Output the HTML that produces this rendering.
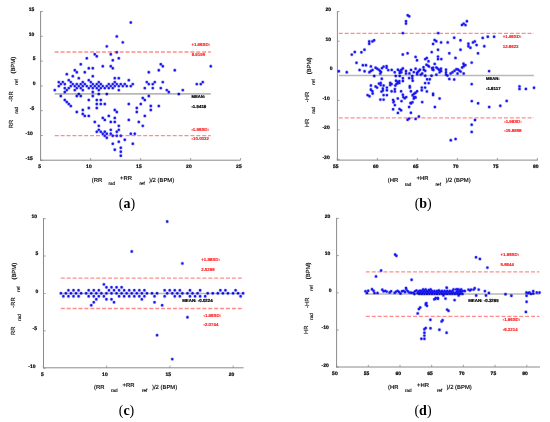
<!DOCTYPE html>
<html><head><meta charset="utf-8"><title>Bland-Altman plots</title>
<style>html,body{margin:0;padding:0;background:#fff;width:550px;height:422px;overflow:hidden;position:relative}</style>
</head><body>
<svg width="550" height="422" viewBox="0 0 550 422" style="position:absolute;left:0;top:0">
<g>
<g font-family="'Liberation Sans', Arial, sans-serif" text-rendering="geometricPrecision">
<line x1="40.60" y1="11.00" x2="40.60" y2="160.70" stroke="#8a8a8a" stroke-width="1.0"/>
<line x1="40.10" y1="160.20" x2="240.50" y2="160.20" stroke="#8a8a8a" stroke-width="1.0"/>
<line x1="40.60" y1="11.50" x2="42.80" y2="11.50" stroke="#8a8a8a" stroke-width="0.8"/>
<text x="34.20" y="10.89" font-size="5.0" text-anchor="end" fill="#000" stroke="#000" stroke-width="0.2" font-weight="bold">15</text>
<line x1="40.60" y1="36.30" x2="42.80" y2="36.30" stroke="#8a8a8a" stroke-width="0.8"/>
<text x="34.20" y="35.69" font-size="5.0" text-anchor="end" fill="#000" stroke="#000" stroke-width="0.2" font-weight="bold">10</text>
<line x1="40.60" y1="61.10" x2="42.80" y2="61.10" stroke="#8a8a8a" stroke-width="0.8"/>
<text x="35.60" y="60.49" font-size="5.0" text-anchor="end" fill="#000" stroke="#000" stroke-width="0.2" font-weight="bold">5</text>
<line x1="40.60" y1="85.90" x2="42.80" y2="85.90" stroke="#8a8a8a" stroke-width="0.8"/>
<text x="35.60" y="85.29" font-size="5.0" text-anchor="end" fill="#000" stroke="#000" stroke-width="0.2" font-weight="bold">0</text>
<line x1="40.60" y1="110.70" x2="42.80" y2="110.70" stroke="#8a8a8a" stroke-width="0.8"/>
<text x="34.20" y="110.09" font-size="5.0" text-anchor="end" fill="#000" stroke="#000" stroke-width="0.2" font-weight="bold">-5</text>
<line x1="40.60" y1="135.50" x2="42.80" y2="135.50" stroke="#8a8a8a" stroke-width="0.8"/>
<text x="32.80" y="134.89" font-size="5.0" text-anchor="end" fill="#000" stroke="#000" stroke-width="0.2" font-weight="bold">-10</text>
<line x1="40.60" y1="160.30" x2="42.80" y2="160.30" stroke="#8a8a8a" stroke-width="0.8"/>
<text x="32.80" y="159.69" font-size="5.0" text-anchor="end" fill="#000" stroke="#000" stroke-width="0.2" font-weight="bold">-15</text>
<line x1="40.60" y1="160.20" x2="40.60" y2="158.00" stroke="#8a8a8a" stroke-width="0.8"/>
<text x="39.70" y="168.29" font-size="5.0" text-anchor="middle" fill="#000" stroke="#000" stroke-width="0.2" font-weight="bold">5</text>
<line x1="90.60" y1="160.20" x2="90.60" y2="158.00" stroke="#8a8a8a" stroke-width="0.8"/>
<text x="88.90" y="168.29" font-size="5.0" text-anchor="middle" fill="#000" stroke="#000" stroke-width="0.2" font-weight="bold">10</text>
<line x1="140.60" y1="160.20" x2="140.60" y2="158.00" stroke="#8a8a8a" stroke-width="0.8"/>
<text x="138.90" y="168.29" font-size="5.0" text-anchor="middle" fill="#000" stroke="#000" stroke-width="0.2" font-weight="bold">15</text>
<line x1="190.60" y1="160.20" x2="190.60" y2="158.00" stroke="#8a8a8a" stroke-width="0.8"/>
<text x="188.90" y="168.29" font-size="5.0" text-anchor="middle" fill="#000" stroke="#000" stroke-width="0.2" font-weight="bold">20</text>
<line x1="240.60" y1="160.20" x2="240.60" y2="158.00" stroke="#8a8a8a" stroke-width="0.8"/>
<text x="238.90" y="168.29" font-size="5.0" text-anchor="middle" fill="#000" stroke="#000" stroke-width="0.2" font-weight="bold">25</text>
<path d="M52.95 90.08a1.85 1.85 0 1 0 3.70 0a1.85 1.85 0 1 0 -3.70 0zM56.95 82.12a1.85 1.85 0 1 0 3.70 0a1.85 1.85 0 1 0 -3.70 0zM56.95 86.10a1.85 1.85 0 1 0 3.70 0a1.85 1.85 0 1 0 -3.70 0zM58.95 84.11a1.85 1.85 0 1 0 3.70 0a1.85 1.85 0 1 0 -3.70 0zM58.95 96.04a1.85 1.85 0 1 0 3.70 0a1.85 1.85 0 1 0 -3.70 0zM60.95 82.12a1.85 1.85 0 1 0 3.70 0a1.85 1.85 0 1 0 -3.70 0zM62.95 84.11a1.85 1.85 0 1 0 3.70 0a1.85 1.85 0 1 0 -3.70 0zM62.95 88.09a1.85 1.85 0 1 0 3.70 0a1.85 1.85 0 1 0 -3.70 0zM62.95 92.06a1.85 1.85 0 1 0 3.70 0a1.85 1.85 0 1 0 -3.70 0zM62.95 100.02a1.85 1.85 0 1 0 3.70 0a1.85 1.85 0 1 0 -3.70 0zM64.95 74.17a1.85 1.85 0 1 0 3.70 0a1.85 1.85 0 1 0 -3.70 0zM64.95 90.08a1.85 1.85 0 1 0 3.70 0a1.85 1.85 0 1 0 -3.70 0zM64.95 102.00a1.85 1.85 0 1 0 3.70 0a1.85 1.85 0 1 0 -3.70 0zM66.95 80.14a1.85 1.85 0 1 0 3.70 0a1.85 1.85 0 1 0 -3.70 0zM66.95 88.09a1.85 1.85 0 1 0 3.70 0a1.85 1.85 0 1 0 -3.70 0zM66.95 103.99a1.85 1.85 0 1 0 3.70 0a1.85 1.85 0 1 0 -3.70 0zM68.95 82.12a1.85 1.85 0 1 0 3.70 0a1.85 1.85 0 1 0 -3.70 0zM68.95 86.10a1.85 1.85 0 1 0 3.70 0a1.85 1.85 0 1 0 -3.70 0zM68.95 105.98a1.85 1.85 0 1 0 3.70 0a1.85 1.85 0 1 0 -3.70 0zM70.95 76.16a1.85 1.85 0 1 0 3.70 0a1.85 1.85 0 1 0 -3.70 0zM70.95 84.11a1.85 1.85 0 1 0 3.70 0a1.85 1.85 0 1 0 -3.70 0zM72.95 70.20a1.85 1.85 0 1 0 3.70 0a1.85 1.85 0 1 0 -3.70 0zM72.95 86.10a1.85 1.85 0 1 0 3.70 0a1.85 1.85 0 1 0 -3.70 0zM72.95 90.08a1.85 1.85 0 1 0 3.70 0a1.85 1.85 0 1 0 -3.70 0zM74.95 72.18a1.85 1.85 0 1 0 3.70 0a1.85 1.85 0 1 0 -3.70 0zM74.95 84.11a1.85 1.85 0 1 0 3.70 0a1.85 1.85 0 1 0 -3.70 0zM74.95 88.09a1.85 1.85 0 1 0 3.70 0a1.85 1.85 0 1 0 -3.70 0zM74.95 96.04a1.85 1.85 0 1 0 3.70 0a1.85 1.85 0 1 0 -3.70 0zM74.95 111.94a1.85 1.85 0 1 0 3.70 0a1.85 1.85 0 1 0 -3.70 0zM76.95 78.15a1.85 1.85 0 1 0 3.70 0a1.85 1.85 0 1 0 -3.70 0zM76.95 86.10a1.85 1.85 0 1 0 3.70 0a1.85 1.85 0 1 0 -3.70 0zM76.95 94.05a1.85 1.85 0 1 0 3.70 0a1.85 1.85 0 1 0 -3.70 0zM78.95 64.23a1.85 1.85 0 1 0 3.70 0a1.85 1.85 0 1 0 -3.70 0zM78.95 84.11a1.85 1.85 0 1 0 3.70 0a1.85 1.85 0 1 0 -3.70 0zM78.95 88.09a1.85 1.85 0 1 0 3.70 0a1.85 1.85 0 1 0 -3.70 0zM78.95 96.04a1.85 1.85 0 1 0 3.70 0a1.85 1.85 0 1 0 -3.70 0zM80.95 82.12a1.85 1.85 0 1 0 3.70 0a1.85 1.85 0 1 0 -3.70 0zM80.95 86.10a1.85 1.85 0 1 0 3.70 0a1.85 1.85 0 1 0 -3.70 0zM80.95 90.08a1.85 1.85 0 1 0 3.70 0a1.85 1.85 0 1 0 -3.70 0zM80.95 109.96a1.85 1.85 0 1 0 3.70 0a1.85 1.85 0 1 0 -3.70 0zM80.95 113.93a1.85 1.85 0 1 0 3.70 0a1.85 1.85 0 1 0 -3.70 0zM82.95 72.18a1.85 1.85 0 1 0 3.70 0a1.85 1.85 0 1 0 -3.70 0zM82.95 84.11a1.85 1.85 0 1 0 3.70 0a1.85 1.85 0 1 0 -3.70 0zM82.95 115.92a1.85 1.85 0 1 0 3.70 0a1.85 1.85 0 1 0 -3.70 0zM84.95 58.27a1.85 1.85 0 1 0 3.70 0a1.85 1.85 0 1 0 -3.70 0zM84.95 86.10a1.85 1.85 0 1 0 3.70 0a1.85 1.85 0 1 0 -3.70 0zM86.95 68.21a1.85 1.85 0 1 0 3.70 0a1.85 1.85 0 1 0 -3.70 0zM86.95 80.14a1.85 1.85 0 1 0 3.70 0a1.85 1.85 0 1 0 -3.70 0zM86.95 88.09a1.85 1.85 0 1 0 3.70 0a1.85 1.85 0 1 0 -3.70 0zM86.95 100.02a1.85 1.85 0 1 0 3.70 0a1.85 1.85 0 1 0 -3.70 0zM86.95 107.97a1.85 1.85 0 1 0 3.70 0a1.85 1.85 0 1 0 -3.70 0zM86.95 115.92a1.85 1.85 0 1 0 3.70 0a1.85 1.85 0 1 0 -3.70 0zM88.95 82.12a1.85 1.85 0 1 0 3.70 0a1.85 1.85 0 1 0 -3.70 0zM88.95 86.10a1.85 1.85 0 1 0 3.70 0a1.85 1.85 0 1 0 -3.70 0zM90.95 68.21a1.85 1.85 0 1 0 3.70 0a1.85 1.85 0 1 0 -3.70 0zM90.95 76.16a1.85 1.85 0 1 0 3.70 0a1.85 1.85 0 1 0 -3.70 0zM90.95 84.11a1.85 1.85 0 1 0 3.70 0a1.85 1.85 0 1 0 -3.70 0zM90.95 88.09a1.85 1.85 0 1 0 3.70 0a1.85 1.85 0 1 0 -3.70 0zM90.95 92.06a1.85 1.85 0 1 0 3.70 0a1.85 1.85 0 1 0 -3.70 0zM90.95 96.04a1.85 1.85 0 1 0 3.70 0a1.85 1.85 0 1 0 -3.70 0zM92.95 54.29a1.85 1.85 0 1 0 3.70 0a1.85 1.85 0 1 0 -3.70 0zM92.95 86.10a1.85 1.85 0 1 0 3.70 0a1.85 1.85 0 1 0 -3.70 0zM92.95 121.88a1.85 1.85 0 1 0 3.70 0a1.85 1.85 0 1 0 -3.70 0zM94.95 56.28a1.85 1.85 0 1 0 3.70 0a1.85 1.85 0 1 0 -3.70 0zM94.95 84.11a1.85 1.85 0 1 0 3.70 0a1.85 1.85 0 1 0 -3.70 0zM94.95 88.09a1.85 1.85 0 1 0 3.70 0a1.85 1.85 0 1 0 -3.70 0zM94.95 100.02a1.85 1.85 0 1 0 3.70 0a1.85 1.85 0 1 0 -3.70 0zM94.95 103.99a1.85 1.85 0 1 0 3.70 0a1.85 1.85 0 1 0 -3.70 0zM94.95 107.97a1.85 1.85 0 1 0 3.70 0a1.85 1.85 0 1 0 -3.70 0zM94.95 131.82a1.85 1.85 0 1 0 3.70 0a1.85 1.85 0 1 0 -3.70 0zM96.95 82.12a1.85 1.85 0 1 0 3.70 0a1.85 1.85 0 1 0 -3.70 0zM96.95 86.10a1.85 1.85 0 1 0 3.70 0a1.85 1.85 0 1 0 -3.70 0zM96.95 90.08a1.85 1.85 0 1 0 3.70 0a1.85 1.85 0 1 0 -3.70 0zM96.95 94.05a1.85 1.85 0 1 0 3.70 0a1.85 1.85 0 1 0 -3.70 0zM96.95 125.86a1.85 1.85 0 1 0 3.70 0a1.85 1.85 0 1 0 -3.70 0zM96.95 129.84a1.85 1.85 0 1 0 3.70 0a1.85 1.85 0 1 0 -3.70 0zM98.95 84.11a1.85 1.85 0 1 0 3.70 0a1.85 1.85 0 1 0 -3.70 0zM98.95 88.09a1.85 1.85 0 1 0 3.70 0a1.85 1.85 0 1 0 -3.70 0zM98.95 100.02a1.85 1.85 0 1 0 3.70 0a1.85 1.85 0 1 0 -3.70 0zM98.95 103.99a1.85 1.85 0 1 0 3.70 0a1.85 1.85 0 1 0 -3.70 0zM98.95 131.82a1.85 1.85 0 1 0 3.70 0a1.85 1.85 0 1 0 -3.70 0zM100.95 66.22a1.85 1.85 0 1 0 3.70 0a1.85 1.85 0 1 0 -3.70 0zM100.95 86.10a1.85 1.85 0 1 0 3.70 0a1.85 1.85 0 1 0 -3.70 0zM100.95 117.91a1.85 1.85 0 1 0 3.70 0a1.85 1.85 0 1 0 -3.70 0zM100.95 133.81a1.85 1.85 0 1 0 3.70 0a1.85 1.85 0 1 0 -3.70 0zM102.95 88.09a1.85 1.85 0 1 0 3.70 0a1.85 1.85 0 1 0 -3.70 0zM102.95 103.99a1.85 1.85 0 1 0 3.70 0a1.85 1.85 0 1 0 -3.70 0zM102.95 119.90a1.85 1.85 0 1 0 3.70 0a1.85 1.85 0 1 0 -3.70 0zM102.95 131.82a1.85 1.85 0 1 0 3.70 0a1.85 1.85 0 1 0 -3.70 0zM102.95 135.80a1.85 1.85 0 1 0 3.70 0a1.85 1.85 0 1 0 -3.70 0zM104.95 46.34a1.85 1.85 0 1 0 3.70 0a1.85 1.85 0 1 0 -3.70 0zM104.95 86.10a1.85 1.85 0 1 0 3.70 0a1.85 1.85 0 1 0 -3.70 0zM104.95 94.05a1.85 1.85 0 1 0 3.70 0a1.85 1.85 0 1 0 -3.70 0zM104.95 133.81a1.85 1.85 0 1 0 3.70 0a1.85 1.85 0 1 0 -3.70 0zM104.95 137.79a1.85 1.85 0 1 0 3.70 0a1.85 1.85 0 1 0 -3.70 0zM106.95 84.11a1.85 1.85 0 1 0 3.70 0a1.85 1.85 0 1 0 -3.70 0zM106.95 88.09a1.85 1.85 0 1 0 3.70 0a1.85 1.85 0 1 0 -3.70 0zM106.95 115.92a1.85 1.85 0 1 0 3.70 0a1.85 1.85 0 1 0 -3.70 0zM108.95 54.29a1.85 1.85 0 1 0 3.70 0a1.85 1.85 0 1 0 -3.70 0zM108.95 66.22a1.85 1.85 0 1 0 3.70 0a1.85 1.85 0 1 0 -3.70 0zM108.95 86.10a1.85 1.85 0 1 0 3.70 0a1.85 1.85 0 1 0 -3.70 0zM108.95 121.88a1.85 1.85 0 1 0 3.70 0a1.85 1.85 0 1 0 -3.70 0zM108.95 129.84a1.85 1.85 0 1 0 3.70 0a1.85 1.85 0 1 0 -3.70 0zM108.95 133.81a1.85 1.85 0 1 0 3.70 0a1.85 1.85 0 1 0 -3.70 0zM110.95 60.26a1.85 1.85 0 1 0 3.70 0a1.85 1.85 0 1 0 -3.70 0zM110.95 68.21a1.85 1.85 0 1 0 3.70 0a1.85 1.85 0 1 0 -3.70 0zM110.95 84.11a1.85 1.85 0 1 0 3.70 0a1.85 1.85 0 1 0 -3.70 0zM110.95 88.09a1.85 1.85 0 1 0 3.70 0a1.85 1.85 0 1 0 -3.70 0zM110.95 135.80a1.85 1.85 0 1 0 3.70 0a1.85 1.85 0 1 0 -3.70 0zM110.95 143.75a1.85 1.85 0 1 0 3.70 0a1.85 1.85 0 1 0 -3.70 0zM112.95 78.15a1.85 1.85 0 1 0 3.70 0a1.85 1.85 0 1 0 -3.70 0zM112.95 82.12a1.85 1.85 0 1 0 3.70 0a1.85 1.85 0 1 0 -3.70 0zM112.95 86.10a1.85 1.85 0 1 0 3.70 0a1.85 1.85 0 1 0 -3.70 0zM112.95 109.96a1.85 1.85 0 1 0 3.70 0a1.85 1.85 0 1 0 -3.70 0zM112.95 117.91a1.85 1.85 0 1 0 3.70 0a1.85 1.85 0 1 0 -3.70 0zM112.95 121.88a1.85 1.85 0 1 0 3.70 0a1.85 1.85 0 1 0 -3.70 0zM112.95 149.72a1.85 1.85 0 1 0 3.70 0a1.85 1.85 0 1 0 -3.70 0zM114.95 36.40a1.85 1.85 0 1 0 3.70 0a1.85 1.85 0 1 0 -3.70 0zM114.95 52.30a1.85 1.85 0 1 0 3.70 0a1.85 1.85 0 1 0 -3.70 0zM114.95 84.11a1.85 1.85 0 1 0 3.70 0a1.85 1.85 0 1 0 -3.70 0zM114.95 111.94a1.85 1.85 0 1 0 3.70 0a1.85 1.85 0 1 0 -3.70 0zM114.95 131.82a1.85 1.85 0 1 0 3.70 0a1.85 1.85 0 1 0 -3.70 0zM114.95 135.80a1.85 1.85 0 1 0 3.70 0a1.85 1.85 0 1 0 -3.70 0zM116.95 58.27a1.85 1.85 0 1 0 3.70 0a1.85 1.85 0 1 0 -3.70 0zM116.95 78.15a1.85 1.85 0 1 0 3.70 0a1.85 1.85 0 1 0 -3.70 0zM116.95 86.10a1.85 1.85 0 1 0 3.70 0a1.85 1.85 0 1 0 -3.70 0zM116.95 90.08a1.85 1.85 0 1 0 3.70 0a1.85 1.85 0 1 0 -3.70 0zM116.95 125.86a1.85 1.85 0 1 0 3.70 0a1.85 1.85 0 1 0 -3.70 0zM116.95 129.84a1.85 1.85 0 1 0 3.70 0a1.85 1.85 0 1 0 -3.70 0zM116.95 141.76a1.85 1.85 0 1 0 3.70 0a1.85 1.85 0 1 0 -3.70 0zM118.95 84.11a1.85 1.85 0 1 0 3.70 0a1.85 1.85 0 1 0 -3.70 0zM118.95 135.80a1.85 1.85 0 1 0 3.70 0a1.85 1.85 0 1 0 -3.70 0zM118.95 147.73a1.85 1.85 0 1 0 3.70 0a1.85 1.85 0 1 0 -3.70 0zM118.95 151.70a1.85 1.85 0 1 0 3.70 0a1.85 1.85 0 1 0 -3.70 0zM118.95 155.68a1.85 1.85 0 1 0 3.70 0a1.85 1.85 0 1 0 -3.70 0zM120.95 42.36a1.85 1.85 0 1 0 3.70 0a1.85 1.85 0 1 0 -3.70 0zM120.95 86.10a1.85 1.85 0 1 0 3.70 0a1.85 1.85 0 1 0 -3.70 0zM122.95 84.11a1.85 1.85 0 1 0 3.70 0a1.85 1.85 0 1 0 -3.70 0zM122.95 139.78a1.85 1.85 0 1 0 3.70 0a1.85 1.85 0 1 0 -3.70 0zM124.95 86.10a1.85 1.85 0 1 0 3.70 0a1.85 1.85 0 1 0 -3.70 0zM126.95 80.14a1.85 1.85 0 1 0 3.70 0a1.85 1.85 0 1 0 -3.70 0zM126.95 103.99a1.85 1.85 0 1 0 3.70 0a1.85 1.85 0 1 0 -3.70 0zM126.95 119.90a1.85 1.85 0 1 0 3.70 0a1.85 1.85 0 1 0 -3.70 0zM128.95 22.48a1.85 1.85 0 1 0 3.70 0a1.85 1.85 0 1 0 -3.70 0zM128.95 86.10a1.85 1.85 0 1 0 3.70 0a1.85 1.85 0 1 0 -3.70 0zM128.95 133.81a1.85 1.85 0 1 0 3.70 0a1.85 1.85 0 1 0 -3.70 0zM130.95 84.11a1.85 1.85 0 1 0 3.70 0a1.85 1.85 0 1 0 -3.70 0zM130.95 143.75a1.85 1.85 0 1 0 3.70 0a1.85 1.85 0 1 0 -3.70 0zM132.95 133.81a1.85 1.85 0 1 0 3.70 0a1.85 1.85 0 1 0 -3.70 0zM134.95 107.97a1.85 1.85 0 1 0 3.70 0a1.85 1.85 0 1 0 -3.70 0zM134.95 111.94a1.85 1.85 0 1 0 3.70 0a1.85 1.85 0 1 0 -3.70 0zM136.95 121.88a1.85 1.85 0 1 0 3.70 0a1.85 1.85 0 1 0 -3.70 0zM138.95 103.99a1.85 1.85 0 1 0 3.70 0a1.85 1.85 0 1 0 -3.70 0zM140.95 98.03a1.85 1.85 0 1 0 3.70 0a1.85 1.85 0 1 0 -3.70 0zM140.95 125.86a1.85 1.85 0 1 0 3.70 0a1.85 1.85 0 1 0 -3.70 0zM142.95 88.09a1.85 1.85 0 1 0 3.70 0a1.85 1.85 0 1 0 -3.70 0zM142.95 100.02a1.85 1.85 0 1 0 3.70 0a1.85 1.85 0 1 0 -3.70 0zM142.95 115.92a1.85 1.85 0 1 0 3.70 0a1.85 1.85 0 1 0 -3.70 0zM144.95 82.12a1.85 1.85 0 1 0 3.70 0a1.85 1.85 0 1 0 -3.70 0zM146.95 72.18a1.85 1.85 0 1 0 3.70 0a1.85 1.85 0 1 0 -3.70 0zM146.95 84.11a1.85 1.85 0 1 0 3.70 0a1.85 1.85 0 1 0 -3.70 0zM146.95 96.04a1.85 1.85 0 1 0 3.70 0a1.85 1.85 0 1 0 -3.70 0zM148.95 105.98a1.85 1.85 0 1 0 3.70 0a1.85 1.85 0 1 0 -3.70 0zM148.95 109.96a1.85 1.85 0 1 0 3.70 0a1.85 1.85 0 1 0 -3.70 0zM150.95 84.11a1.85 1.85 0 1 0 3.70 0a1.85 1.85 0 1 0 -3.70 0zM150.95 88.09a1.85 1.85 0 1 0 3.70 0a1.85 1.85 0 1 0 -3.70 0zM152.95 82.12a1.85 1.85 0 1 0 3.70 0a1.85 1.85 0 1 0 -3.70 0zM156.95 70.20a1.85 1.85 0 1 0 3.70 0a1.85 1.85 0 1 0 -3.70 0zM156.95 105.98a1.85 1.85 0 1 0 3.70 0a1.85 1.85 0 1 0 -3.70 0zM158.95 64.23a1.85 1.85 0 1 0 3.70 0a1.85 1.85 0 1 0 -3.70 0zM158.95 88.09a1.85 1.85 0 1 0 3.70 0a1.85 1.85 0 1 0 -3.70 0zM160.95 66.22a1.85 1.85 0 1 0 3.70 0a1.85 1.85 0 1 0 -3.70 0zM160.95 82.12a1.85 1.85 0 1 0 3.70 0a1.85 1.85 0 1 0 -3.70 0zM164.95 90.08a1.85 1.85 0 1 0 3.70 0a1.85 1.85 0 1 0 -3.70 0zM166.95 92.06a1.85 1.85 0 1 0 3.70 0a1.85 1.85 0 1 0 -3.70 0zM172.95 70.20a1.85 1.85 0 1 0 3.70 0a1.85 1.85 0 1 0 -3.70 0zM176.95 94.05a1.85 1.85 0 1 0 3.70 0a1.85 1.85 0 1 0 -3.70 0zM180.95 90.08a1.85 1.85 0 1 0 3.70 0a1.85 1.85 0 1 0 -3.70 0zM194.95 84.11a1.85 1.85 0 1 0 3.70 0a1.85 1.85 0 1 0 -3.70 0zM198.95 84.11a1.85 1.85 0 1 0 3.70 0a1.85 1.85 0 1 0 -3.70 0zM200.95 82.12a1.85 1.85 0 1 0 3.70 0a1.85 1.85 0 1 0 -3.70 0zM208.95 66.22a1.85 1.85 0 1 0 3.70 0a1.85 1.85 0 1 0 -3.70 0z" fill="#1616f2" fill-opacity="0.3"/>
<path d="M53.60 90.08a1.2 1.2 0 1 0 2.40 0a1.2 1.2 0 1 0 -2.40 0zM57.60 82.12a1.2 1.2 0 1 0 2.40 0a1.2 1.2 0 1 0 -2.40 0zM57.60 86.10a1.2 1.2 0 1 0 2.40 0a1.2 1.2 0 1 0 -2.40 0zM59.60 84.11a1.2 1.2 0 1 0 2.40 0a1.2 1.2 0 1 0 -2.40 0zM59.60 96.04a1.2 1.2 0 1 0 2.40 0a1.2 1.2 0 1 0 -2.40 0zM61.60 82.12a1.2 1.2 0 1 0 2.40 0a1.2 1.2 0 1 0 -2.40 0zM63.60 84.11a1.2 1.2 0 1 0 2.40 0a1.2 1.2 0 1 0 -2.40 0zM63.60 88.09a1.2 1.2 0 1 0 2.40 0a1.2 1.2 0 1 0 -2.40 0zM63.60 92.06a1.2 1.2 0 1 0 2.40 0a1.2 1.2 0 1 0 -2.40 0zM63.60 100.02a1.2 1.2 0 1 0 2.40 0a1.2 1.2 0 1 0 -2.40 0zM65.60 74.17a1.2 1.2 0 1 0 2.40 0a1.2 1.2 0 1 0 -2.40 0zM65.60 90.08a1.2 1.2 0 1 0 2.40 0a1.2 1.2 0 1 0 -2.40 0zM65.60 102.00a1.2 1.2 0 1 0 2.40 0a1.2 1.2 0 1 0 -2.40 0zM67.60 80.14a1.2 1.2 0 1 0 2.40 0a1.2 1.2 0 1 0 -2.40 0zM67.60 88.09a1.2 1.2 0 1 0 2.40 0a1.2 1.2 0 1 0 -2.40 0zM67.60 103.99a1.2 1.2 0 1 0 2.40 0a1.2 1.2 0 1 0 -2.40 0zM69.60 82.12a1.2 1.2 0 1 0 2.40 0a1.2 1.2 0 1 0 -2.40 0zM69.60 86.10a1.2 1.2 0 1 0 2.40 0a1.2 1.2 0 1 0 -2.40 0zM69.60 105.98a1.2 1.2 0 1 0 2.40 0a1.2 1.2 0 1 0 -2.40 0zM71.60 76.16a1.2 1.2 0 1 0 2.40 0a1.2 1.2 0 1 0 -2.40 0zM71.60 84.11a1.2 1.2 0 1 0 2.40 0a1.2 1.2 0 1 0 -2.40 0zM73.60 70.20a1.2 1.2 0 1 0 2.40 0a1.2 1.2 0 1 0 -2.40 0zM73.60 86.10a1.2 1.2 0 1 0 2.40 0a1.2 1.2 0 1 0 -2.40 0zM73.60 90.08a1.2 1.2 0 1 0 2.40 0a1.2 1.2 0 1 0 -2.40 0zM75.60 72.18a1.2 1.2 0 1 0 2.40 0a1.2 1.2 0 1 0 -2.40 0zM75.60 84.11a1.2 1.2 0 1 0 2.40 0a1.2 1.2 0 1 0 -2.40 0zM75.60 88.09a1.2 1.2 0 1 0 2.40 0a1.2 1.2 0 1 0 -2.40 0zM75.60 96.04a1.2 1.2 0 1 0 2.40 0a1.2 1.2 0 1 0 -2.40 0zM75.60 111.94a1.2 1.2 0 1 0 2.40 0a1.2 1.2 0 1 0 -2.40 0zM77.60 78.15a1.2 1.2 0 1 0 2.40 0a1.2 1.2 0 1 0 -2.40 0zM77.60 86.10a1.2 1.2 0 1 0 2.40 0a1.2 1.2 0 1 0 -2.40 0zM77.60 94.05a1.2 1.2 0 1 0 2.40 0a1.2 1.2 0 1 0 -2.40 0zM79.60 64.23a1.2 1.2 0 1 0 2.40 0a1.2 1.2 0 1 0 -2.40 0zM79.60 84.11a1.2 1.2 0 1 0 2.40 0a1.2 1.2 0 1 0 -2.40 0zM79.60 88.09a1.2 1.2 0 1 0 2.40 0a1.2 1.2 0 1 0 -2.40 0zM79.60 96.04a1.2 1.2 0 1 0 2.40 0a1.2 1.2 0 1 0 -2.40 0zM81.60 82.12a1.2 1.2 0 1 0 2.40 0a1.2 1.2 0 1 0 -2.40 0zM81.60 86.10a1.2 1.2 0 1 0 2.40 0a1.2 1.2 0 1 0 -2.40 0zM81.60 90.08a1.2 1.2 0 1 0 2.40 0a1.2 1.2 0 1 0 -2.40 0zM81.60 109.96a1.2 1.2 0 1 0 2.40 0a1.2 1.2 0 1 0 -2.40 0zM81.60 113.93a1.2 1.2 0 1 0 2.40 0a1.2 1.2 0 1 0 -2.40 0zM83.60 72.18a1.2 1.2 0 1 0 2.40 0a1.2 1.2 0 1 0 -2.40 0zM83.60 84.11a1.2 1.2 0 1 0 2.40 0a1.2 1.2 0 1 0 -2.40 0zM83.60 115.92a1.2 1.2 0 1 0 2.40 0a1.2 1.2 0 1 0 -2.40 0zM85.60 58.27a1.2 1.2 0 1 0 2.40 0a1.2 1.2 0 1 0 -2.40 0zM85.60 86.10a1.2 1.2 0 1 0 2.40 0a1.2 1.2 0 1 0 -2.40 0zM87.60 68.21a1.2 1.2 0 1 0 2.40 0a1.2 1.2 0 1 0 -2.40 0zM87.60 80.14a1.2 1.2 0 1 0 2.40 0a1.2 1.2 0 1 0 -2.40 0zM87.60 88.09a1.2 1.2 0 1 0 2.40 0a1.2 1.2 0 1 0 -2.40 0zM87.60 100.02a1.2 1.2 0 1 0 2.40 0a1.2 1.2 0 1 0 -2.40 0zM87.60 107.97a1.2 1.2 0 1 0 2.40 0a1.2 1.2 0 1 0 -2.40 0zM87.60 115.92a1.2 1.2 0 1 0 2.40 0a1.2 1.2 0 1 0 -2.40 0zM89.60 82.12a1.2 1.2 0 1 0 2.40 0a1.2 1.2 0 1 0 -2.40 0zM89.60 86.10a1.2 1.2 0 1 0 2.40 0a1.2 1.2 0 1 0 -2.40 0zM91.60 68.21a1.2 1.2 0 1 0 2.40 0a1.2 1.2 0 1 0 -2.40 0zM91.60 76.16a1.2 1.2 0 1 0 2.40 0a1.2 1.2 0 1 0 -2.40 0zM91.60 84.11a1.2 1.2 0 1 0 2.40 0a1.2 1.2 0 1 0 -2.40 0zM91.60 88.09a1.2 1.2 0 1 0 2.40 0a1.2 1.2 0 1 0 -2.40 0zM91.60 92.06a1.2 1.2 0 1 0 2.40 0a1.2 1.2 0 1 0 -2.40 0zM91.60 96.04a1.2 1.2 0 1 0 2.40 0a1.2 1.2 0 1 0 -2.40 0zM93.60 54.29a1.2 1.2 0 1 0 2.40 0a1.2 1.2 0 1 0 -2.40 0zM93.60 86.10a1.2 1.2 0 1 0 2.40 0a1.2 1.2 0 1 0 -2.40 0zM93.60 121.88a1.2 1.2 0 1 0 2.40 0a1.2 1.2 0 1 0 -2.40 0zM95.60 56.28a1.2 1.2 0 1 0 2.40 0a1.2 1.2 0 1 0 -2.40 0zM95.60 84.11a1.2 1.2 0 1 0 2.40 0a1.2 1.2 0 1 0 -2.40 0zM95.60 88.09a1.2 1.2 0 1 0 2.40 0a1.2 1.2 0 1 0 -2.40 0zM95.60 100.02a1.2 1.2 0 1 0 2.40 0a1.2 1.2 0 1 0 -2.40 0zM95.60 103.99a1.2 1.2 0 1 0 2.40 0a1.2 1.2 0 1 0 -2.40 0zM95.60 107.97a1.2 1.2 0 1 0 2.40 0a1.2 1.2 0 1 0 -2.40 0zM95.60 131.82a1.2 1.2 0 1 0 2.40 0a1.2 1.2 0 1 0 -2.40 0zM97.60 82.12a1.2 1.2 0 1 0 2.40 0a1.2 1.2 0 1 0 -2.40 0zM97.60 86.10a1.2 1.2 0 1 0 2.40 0a1.2 1.2 0 1 0 -2.40 0zM97.60 90.08a1.2 1.2 0 1 0 2.40 0a1.2 1.2 0 1 0 -2.40 0zM97.60 94.05a1.2 1.2 0 1 0 2.40 0a1.2 1.2 0 1 0 -2.40 0zM97.60 125.86a1.2 1.2 0 1 0 2.40 0a1.2 1.2 0 1 0 -2.40 0zM97.60 129.84a1.2 1.2 0 1 0 2.40 0a1.2 1.2 0 1 0 -2.40 0zM99.60 84.11a1.2 1.2 0 1 0 2.40 0a1.2 1.2 0 1 0 -2.40 0zM99.60 88.09a1.2 1.2 0 1 0 2.40 0a1.2 1.2 0 1 0 -2.40 0zM99.60 100.02a1.2 1.2 0 1 0 2.40 0a1.2 1.2 0 1 0 -2.40 0zM99.60 103.99a1.2 1.2 0 1 0 2.40 0a1.2 1.2 0 1 0 -2.40 0zM99.60 131.82a1.2 1.2 0 1 0 2.40 0a1.2 1.2 0 1 0 -2.40 0zM101.60 66.22a1.2 1.2 0 1 0 2.40 0a1.2 1.2 0 1 0 -2.40 0zM101.60 86.10a1.2 1.2 0 1 0 2.40 0a1.2 1.2 0 1 0 -2.40 0zM101.60 117.91a1.2 1.2 0 1 0 2.40 0a1.2 1.2 0 1 0 -2.40 0zM101.60 133.81a1.2 1.2 0 1 0 2.40 0a1.2 1.2 0 1 0 -2.40 0zM103.60 88.09a1.2 1.2 0 1 0 2.40 0a1.2 1.2 0 1 0 -2.40 0zM103.60 103.99a1.2 1.2 0 1 0 2.40 0a1.2 1.2 0 1 0 -2.40 0zM103.60 119.90a1.2 1.2 0 1 0 2.40 0a1.2 1.2 0 1 0 -2.40 0zM103.60 131.82a1.2 1.2 0 1 0 2.40 0a1.2 1.2 0 1 0 -2.40 0zM103.60 135.80a1.2 1.2 0 1 0 2.40 0a1.2 1.2 0 1 0 -2.40 0zM105.60 46.34a1.2 1.2 0 1 0 2.40 0a1.2 1.2 0 1 0 -2.40 0zM105.60 86.10a1.2 1.2 0 1 0 2.40 0a1.2 1.2 0 1 0 -2.40 0zM105.60 94.05a1.2 1.2 0 1 0 2.40 0a1.2 1.2 0 1 0 -2.40 0zM105.60 133.81a1.2 1.2 0 1 0 2.40 0a1.2 1.2 0 1 0 -2.40 0zM105.60 137.79a1.2 1.2 0 1 0 2.40 0a1.2 1.2 0 1 0 -2.40 0zM107.60 84.11a1.2 1.2 0 1 0 2.40 0a1.2 1.2 0 1 0 -2.40 0zM107.60 88.09a1.2 1.2 0 1 0 2.40 0a1.2 1.2 0 1 0 -2.40 0zM107.60 115.92a1.2 1.2 0 1 0 2.40 0a1.2 1.2 0 1 0 -2.40 0zM109.60 54.29a1.2 1.2 0 1 0 2.40 0a1.2 1.2 0 1 0 -2.40 0zM109.60 66.22a1.2 1.2 0 1 0 2.40 0a1.2 1.2 0 1 0 -2.40 0zM109.60 86.10a1.2 1.2 0 1 0 2.40 0a1.2 1.2 0 1 0 -2.40 0zM109.60 121.88a1.2 1.2 0 1 0 2.40 0a1.2 1.2 0 1 0 -2.40 0zM109.60 129.84a1.2 1.2 0 1 0 2.40 0a1.2 1.2 0 1 0 -2.40 0zM109.60 133.81a1.2 1.2 0 1 0 2.40 0a1.2 1.2 0 1 0 -2.40 0zM111.60 60.26a1.2 1.2 0 1 0 2.40 0a1.2 1.2 0 1 0 -2.40 0zM111.60 68.21a1.2 1.2 0 1 0 2.40 0a1.2 1.2 0 1 0 -2.40 0zM111.60 84.11a1.2 1.2 0 1 0 2.40 0a1.2 1.2 0 1 0 -2.40 0zM111.60 88.09a1.2 1.2 0 1 0 2.40 0a1.2 1.2 0 1 0 -2.40 0zM111.60 135.80a1.2 1.2 0 1 0 2.40 0a1.2 1.2 0 1 0 -2.40 0zM111.60 143.75a1.2 1.2 0 1 0 2.40 0a1.2 1.2 0 1 0 -2.40 0zM113.60 78.15a1.2 1.2 0 1 0 2.40 0a1.2 1.2 0 1 0 -2.40 0zM113.60 82.12a1.2 1.2 0 1 0 2.40 0a1.2 1.2 0 1 0 -2.40 0zM113.60 86.10a1.2 1.2 0 1 0 2.40 0a1.2 1.2 0 1 0 -2.40 0zM113.60 109.96a1.2 1.2 0 1 0 2.40 0a1.2 1.2 0 1 0 -2.40 0zM113.60 117.91a1.2 1.2 0 1 0 2.40 0a1.2 1.2 0 1 0 -2.40 0zM113.60 121.88a1.2 1.2 0 1 0 2.40 0a1.2 1.2 0 1 0 -2.40 0zM113.60 149.72a1.2 1.2 0 1 0 2.40 0a1.2 1.2 0 1 0 -2.40 0zM115.60 36.40a1.2 1.2 0 1 0 2.40 0a1.2 1.2 0 1 0 -2.40 0zM115.60 52.30a1.2 1.2 0 1 0 2.40 0a1.2 1.2 0 1 0 -2.40 0zM115.60 84.11a1.2 1.2 0 1 0 2.40 0a1.2 1.2 0 1 0 -2.40 0zM115.60 111.94a1.2 1.2 0 1 0 2.40 0a1.2 1.2 0 1 0 -2.40 0zM115.60 131.82a1.2 1.2 0 1 0 2.40 0a1.2 1.2 0 1 0 -2.40 0zM115.60 135.80a1.2 1.2 0 1 0 2.40 0a1.2 1.2 0 1 0 -2.40 0zM117.60 58.27a1.2 1.2 0 1 0 2.40 0a1.2 1.2 0 1 0 -2.40 0zM117.60 78.15a1.2 1.2 0 1 0 2.40 0a1.2 1.2 0 1 0 -2.40 0zM117.60 86.10a1.2 1.2 0 1 0 2.40 0a1.2 1.2 0 1 0 -2.40 0zM117.60 90.08a1.2 1.2 0 1 0 2.40 0a1.2 1.2 0 1 0 -2.40 0zM117.60 125.86a1.2 1.2 0 1 0 2.40 0a1.2 1.2 0 1 0 -2.40 0zM117.60 129.84a1.2 1.2 0 1 0 2.40 0a1.2 1.2 0 1 0 -2.40 0zM117.60 141.76a1.2 1.2 0 1 0 2.40 0a1.2 1.2 0 1 0 -2.40 0zM119.60 84.11a1.2 1.2 0 1 0 2.40 0a1.2 1.2 0 1 0 -2.40 0zM119.60 135.80a1.2 1.2 0 1 0 2.40 0a1.2 1.2 0 1 0 -2.40 0zM119.60 147.73a1.2 1.2 0 1 0 2.40 0a1.2 1.2 0 1 0 -2.40 0zM119.60 151.70a1.2 1.2 0 1 0 2.40 0a1.2 1.2 0 1 0 -2.40 0zM119.60 155.68a1.2 1.2 0 1 0 2.40 0a1.2 1.2 0 1 0 -2.40 0zM121.60 42.36a1.2 1.2 0 1 0 2.40 0a1.2 1.2 0 1 0 -2.40 0zM121.60 86.10a1.2 1.2 0 1 0 2.40 0a1.2 1.2 0 1 0 -2.40 0zM123.60 84.11a1.2 1.2 0 1 0 2.40 0a1.2 1.2 0 1 0 -2.40 0zM123.60 139.78a1.2 1.2 0 1 0 2.40 0a1.2 1.2 0 1 0 -2.40 0zM125.60 86.10a1.2 1.2 0 1 0 2.40 0a1.2 1.2 0 1 0 -2.40 0zM127.60 80.14a1.2 1.2 0 1 0 2.40 0a1.2 1.2 0 1 0 -2.40 0zM127.60 103.99a1.2 1.2 0 1 0 2.40 0a1.2 1.2 0 1 0 -2.40 0zM127.60 119.90a1.2 1.2 0 1 0 2.40 0a1.2 1.2 0 1 0 -2.40 0zM129.60 22.48a1.2 1.2 0 1 0 2.40 0a1.2 1.2 0 1 0 -2.40 0zM129.60 86.10a1.2 1.2 0 1 0 2.40 0a1.2 1.2 0 1 0 -2.40 0zM129.60 133.81a1.2 1.2 0 1 0 2.40 0a1.2 1.2 0 1 0 -2.40 0zM131.60 84.11a1.2 1.2 0 1 0 2.40 0a1.2 1.2 0 1 0 -2.40 0zM131.60 143.75a1.2 1.2 0 1 0 2.40 0a1.2 1.2 0 1 0 -2.40 0zM133.60 133.81a1.2 1.2 0 1 0 2.40 0a1.2 1.2 0 1 0 -2.40 0zM135.60 107.97a1.2 1.2 0 1 0 2.40 0a1.2 1.2 0 1 0 -2.40 0zM135.60 111.94a1.2 1.2 0 1 0 2.40 0a1.2 1.2 0 1 0 -2.40 0zM137.60 121.88a1.2 1.2 0 1 0 2.40 0a1.2 1.2 0 1 0 -2.40 0zM139.60 103.99a1.2 1.2 0 1 0 2.40 0a1.2 1.2 0 1 0 -2.40 0zM141.60 98.03a1.2 1.2 0 1 0 2.40 0a1.2 1.2 0 1 0 -2.40 0zM141.60 125.86a1.2 1.2 0 1 0 2.40 0a1.2 1.2 0 1 0 -2.40 0zM143.60 88.09a1.2 1.2 0 1 0 2.40 0a1.2 1.2 0 1 0 -2.40 0zM143.60 100.02a1.2 1.2 0 1 0 2.40 0a1.2 1.2 0 1 0 -2.40 0zM143.60 115.92a1.2 1.2 0 1 0 2.40 0a1.2 1.2 0 1 0 -2.40 0zM145.60 82.12a1.2 1.2 0 1 0 2.40 0a1.2 1.2 0 1 0 -2.40 0zM147.60 72.18a1.2 1.2 0 1 0 2.40 0a1.2 1.2 0 1 0 -2.40 0zM147.60 84.11a1.2 1.2 0 1 0 2.40 0a1.2 1.2 0 1 0 -2.40 0zM147.60 96.04a1.2 1.2 0 1 0 2.40 0a1.2 1.2 0 1 0 -2.40 0zM149.60 105.98a1.2 1.2 0 1 0 2.40 0a1.2 1.2 0 1 0 -2.40 0zM149.60 109.96a1.2 1.2 0 1 0 2.40 0a1.2 1.2 0 1 0 -2.40 0zM151.60 84.11a1.2 1.2 0 1 0 2.40 0a1.2 1.2 0 1 0 -2.40 0zM151.60 88.09a1.2 1.2 0 1 0 2.40 0a1.2 1.2 0 1 0 -2.40 0zM153.60 82.12a1.2 1.2 0 1 0 2.40 0a1.2 1.2 0 1 0 -2.40 0zM157.60 70.20a1.2 1.2 0 1 0 2.40 0a1.2 1.2 0 1 0 -2.40 0zM157.60 105.98a1.2 1.2 0 1 0 2.40 0a1.2 1.2 0 1 0 -2.40 0zM159.60 64.23a1.2 1.2 0 1 0 2.40 0a1.2 1.2 0 1 0 -2.40 0zM159.60 88.09a1.2 1.2 0 1 0 2.40 0a1.2 1.2 0 1 0 -2.40 0zM161.60 66.22a1.2 1.2 0 1 0 2.40 0a1.2 1.2 0 1 0 -2.40 0zM161.60 82.12a1.2 1.2 0 1 0 2.40 0a1.2 1.2 0 1 0 -2.40 0zM165.60 90.08a1.2 1.2 0 1 0 2.40 0a1.2 1.2 0 1 0 -2.40 0zM167.60 92.06a1.2 1.2 0 1 0 2.40 0a1.2 1.2 0 1 0 -2.40 0zM173.60 70.20a1.2 1.2 0 1 0 2.40 0a1.2 1.2 0 1 0 -2.40 0zM177.60 94.05a1.2 1.2 0 1 0 2.40 0a1.2 1.2 0 1 0 -2.40 0zM181.60 90.08a1.2 1.2 0 1 0 2.40 0a1.2 1.2 0 1 0 -2.40 0zM195.60 84.11a1.2 1.2 0 1 0 2.40 0a1.2 1.2 0 1 0 -2.40 0zM199.60 84.11a1.2 1.2 0 1 0 2.40 0a1.2 1.2 0 1 0 -2.40 0zM201.60 82.12a1.2 1.2 0 1 0 2.40 0a1.2 1.2 0 1 0 -2.40 0zM209.60 66.22a1.2 1.2 0 1 0 2.40 0a1.2 1.2 0 1 0 -2.40 0z" fill="#1616f2"/>
<line x1="54.70" y1="52.00" x2="210.80" y2="52.00" stroke="#ff0000" stroke-width="1.3" stroke-dasharray="4 1.9" stroke-opacity="0.45"/>
<line x1="54.70" y1="135.60" x2="210.80" y2="135.60" stroke="#ff0000" stroke-width="1.3" stroke-dasharray="4 1.9" stroke-opacity="0.45"/>
<line x1="54.70" y1="93.85" x2="210.80" y2="93.85" stroke="#000000" stroke-width="1.7" stroke-opacity="0.28"/>
<text x="191.40" y="46.38" font-size="4.4" text-anchor="start" fill="#ff1a1a" stroke="#ff1a1a" stroke-width="0.12" font-weight="bold">+1.96SD:</text>
<text x="191.70" y="56.18" font-size="4.4" text-anchor="start" fill="#ff1a1a" stroke="#ff1a1a" stroke-width="0.12" font-weight="bold">6.9195</text>
<text x="191.40" y="97.90" font-size="4.2" text-anchor="start" fill="#000" stroke="#000" stroke-width="0.2" font-weight="bold">MEAN:</text>
<text x="191.40" y="107.78" font-size="4.4" text-anchor="start" fill="#000" stroke="#000" stroke-width="0.2" font-weight="bold">-1.5419</text>
<text x="191.40" y="130.68" font-size="4.4" text-anchor="start" fill="#ff1a1a" stroke="#ff1a1a" stroke-width="0.12" font-weight="bold">-1.96SD:</text>
<text x="191.60" y="140.18" font-size="4.4" text-anchor="start" fill="#ff1a1a" stroke="#ff1a1a" stroke-width="0.12" font-weight="bold">-10.0032</text>
<text transform="translate(12.71,124.00) rotate(-90)" font-size="5.9" text-anchor="middle" stroke="#000" stroke-width="0.15" font-weight="normal">RR</text>
<text transform="translate(18.05,110.30) rotate(-90)" font-size="4.6" text-anchor="middle" stroke="#000" stroke-width="0.15" font-weight="normal">rad</text>
<text transform="translate(12.81,96.60) rotate(-90)" font-size="5.9" text-anchor="middle" stroke="#000" stroke-width="0.15" font-weight="normal">-RR</text>
<text transform="translate(18.05,82.00) rotate(-90)" font-size="4.6" text-anchor="middle" stroke="#000" stroke-width="0.15" font-weight="normal">ref</text>
<text transform="translate(14.51,65.20) rotate(-90)" font-size="5.9" text-anchor="middle" stroke="#000" stroke-width="0.15" font-weight="normal">(BPM)</text>
<text x="91.70" y="181.51" font-size="5.9" text-anchor="start" fill="#000" stroke="#000" stroke-width="0.15" font-weight="normal">(RR</text>
<text x="108.40" y="184.85" font-size="4.6" text-anchor="start" fill="#000" stroke="#000" stroke-width="0.15" font-weight="normal">rad</text>
<text x="120.00" y="180.11" font-size="5.9" text-anchor="start" fill="#000" stroke="#000" stroke-width="0.15" font-weight="normal">+RR</text>
<text x="139.40" y="184.85" font-size="4.6" text-anchor="start" fill="#000" stroke="#000" stroke-width="0.15" font-weight="normal">ref</text>
<text x="149.00" y="182.11" font-size="5.9" text-anchor="start" fill="#000" stroke="#000" stroke-width="0.15" font-weight="normal">)/2 (BPM)</text>
<line x1="337.40" y1="11.15" x2="337.40" y2="160.60" stroke="#8a8a8a" stroke-width="1.0"/>
<line x1="336.90" y1="160.10" x2="537.80" y2="160.10" stroke="#8a8a8a" stroke-width="1.0"/>
<line x1="337.40" y1="11.65" x2="339.60" y2="11.65" stroke="#8a8a8a" stroke-width="0.8"/>
<text x="331.10" y="11.04" font-size="5.0" text-anchor="end" fill="#000" stroke="#000" stroke-width="0.2" font-weight="bold">20</text>
<line x1="337.40" y1="41.20" x2="339.60" y2="41.20" stroke="#8a8a8a" stroke-width="0.8"/>
<text x="331.10" y="40.59" font-size="5.0" text-anchor="end" fill="#000" stroke="#000" stroke-width="0.2" font-weight="bold">10</text>
<line x1="337.40" y1="70.75" x2="339.60" y2="70.75" stroke="#8a8a8a" stroke-width="0.8"/>
<text x="332.50" y="70.14" font-size="5.0" text-anchor="end" fill="#000" stroke="#000" stroke-width="0.2" font-weight="bold">0</text>
<line x1="337.40" y1="100.30" x2="339.60" y2="100.30" stroke="#8a8a8a" stroke-width="0.8"/>
<text x="329.70" y="99.69" font-size="5.0" text-anchor="end" fill="#000" stroke="#000" stroke-width="0.2" font-weight="bold">-10</text>
<line x1="337.40" y1="129.85" x2="339.60" y2="129.85" stroke="#8a8a8a" stroke-width="0.8"/>
<text x="329.70" y="129.24" font-size="5.0" text-anchor="end" fill="#000" stroke="#000" stroke-width="0.2" font-weight="bold">-20</text>
<line x1="337.40" y1="159.40" x2="339.60" y2="159.40" stroke="#8a8a8a" stroke-width="0.8"/>
<text x="329.70" y="158.79" font-size="5.0" text-anchor="end" fill="#000" stroke="#000" stroke-width="0.2" font-weight="bold">-30</text>
<line x1="337.40" y1="160.10" x2="337.40" y2="157.90" stroke="#8a8a8a" stroke-width="0.8"/>
<text x="335.70" y="168.39" font-size="5.0" text-anchor="middle" fill="#000" stroke="#000" stroke-width="0.2" font-weight="bold">55</text>
<line x1="377.40" y1="160.10" x2="377.40" y2="157.90" stroke="#8a8a8a" stroke-width="0.8"/>
<text x="375.70" y="168.39" font-size="5.0" text-anchor="middle" fill="#000" stroke="#000" stroke-width="0.2" font-weight="bold">60</text>
<line x1="417.40" y1="160.10" x2="417.40" y2="157.90" stroke="#8a8a8a" stroke-width="0.8"/>
<text x="415.70" y="168.39" font-size="5.0" text-anchor="middle" fill="#000" stroke="#000" stroke-width="0.2" font-weight="bold">65</text>
<line x1="457.40" y1="160.10" x2="457.40" y2="157.90" stroke="#8a8a8a" stroke-width="0.8"/>
<text x="455.70" y="168.39" font-size="5.0" text-anchor="middle" fill="#000" stroke="#000" stroke-width="0.2" font-weight="bold">70</text>
<line x1="497.40" y1="160.10" x2="497.40" y2="157.90" stroke="#8a8a8a" stroke-width="0.8"/>
<text x="495.70" y="168.39" font-size="5.0" text-anchor="middle" fill="#000" stroke="#000" stroke-width="0.2" font-weight="bold">75</text>
<line x1="537.40" y1="160.10" x2="537.40" y2="157.90" stroke="#8a8a8a" stroke-width="0.8"/>
<text x="535.70" y="168.39" font-size="5.0" text-anchor="middle" fill="#000" stroke="#000" stroke-width="0.2" font-weight="bold">80</text>
<path d="M367.35 41.40a1.85 1.85 0 1 0 3.70 0a1.85 1.85 0 1 0 -3.70 0zM370.55 41.40a1.85 1.85 0 1 0 3.70 0a1.85 1.85 0 1 0 -3.70 0zM372.25 40.30a1.85 1.85 0 1 0 3.70 0a1.85 1.85 0 1 0 -3.70 0zM367.35 43.80a1.85 1.85 0 1 0 3.70 0a1.85 1.85 0 1 0 -3.70 0zM362.65 49.70a1.85 1.85 0 1 0 3.70 0a1.85 1.85 0 1 0 -3.70 0zM359.55 52.30a1.85 1.85 0 1 0 3.70 0a1.85 1.85 0 1 0 -3.70 0zM352.95 52.00a1.85 1.85 0 1 0 3.70 0a1.85 1.85 0 1 0 -3.70 0zM349.95 54.60a1.85 1.85 0 1 0 3.70 0a1.85 1.85 0 1 0 -3.70 0zM354.65 62.80a1.85 1.85 0 1 0 3.70 0a1.85 1.85 0 1 0 -3.70 0zM361.05 65.20a1.85 1.85 0 1 0 3.70 0a1.85 1.85 0 1 0 -3.70 0zM364.15 65.20a1.85 1.85 0 1 0 3.70 0a1.85 1.85 0 1 0 -3.70 0zM369.05 66.40a1.85 1.85 0 1 0 3.70 0a1.85 1.85 0 1 0 -3.70 0zM373.75 67.70a1.85 1.85 0 1 0 3.70 0a1.85 1.85 0 1 0 -3.70 0zM336.95 71.20a1.85 1.85 0 1 0 3.70 0a1.85 1.85 0 1 0 -3.70 0zM344.95 72.20a1.85 1.85 0 1 0 3.70 0a1.85 1.85 0 1 0 -3.70 0zM357.75 70.00a1.85 1.85 0 1 0 3.70 0a1.85 1.85 0 1 0 -3.70 0zM362.75 71.20a1.85 1.85 0 1 0 3.70 0a1.85 1.85 0 1 0 -3.70 0zM367.55 72.20a1.85 1.85 0 1 0 3.70 0a1.85 1.85 0 1 0 -3.70 0zM369.05 71.00a1.85 1.85 0 1 0 3.70 0a1.85 1.85 0 1 0 -3.70 0zM370.65 70.00a1.85 1.85 0 1 0 3.70 0a1.85 1.85 0 1 0 -3.70 0zM372.35 76.00a1.85 1.85 0 1 0 3.70 0a1.85 1.85 0 1 0 -3.70 0zM405.85 15.30a1.85 1.85 0 1 0 3.70 0a1.85 1.85 0 1 0 -3.70 0zM407.35 16.30a1.85 1.85 0 1 0 3.70 0a1.85 1.85 0 1 0 -3.70 0zM404.15 21.30a1.85 1.85 0 1 0 3.70 0a1.85 1.85 0 1 0 -3.70 0zM404.15 23.60a1.85 1.85 0 1 0 3.70 0a1.85 1.85 0 1 0 -3.70 0zM401.05 33.10a1.85 1.85 0 1 0 3.70 0a1.85 1.85 0 1 0 -3.70 0zM375.15 68.60a1.85 1.85 0 1 0 3.70 0a1.85 1.85 0 1 0 -3.70 0zM376.75 69.60a1.85 1.85 0 1 0 3.70 0a1.85 1.85 0 1 0 -3.70 0zM378.25 71.00a1.85 1.85 0 1 0 3.70 0a1.85 1.85 0 1 0 -3.70 0zM379.15 72.00a1.85 1.85 0 1 0 3.70 0a1.85 1.85 0 1 0 -3.70 0zM378.45 73.40a1.85 1.85 0 1 0 3.70 0a1.85 1.85 0 1 0 -3.70 0zM380.15 68.10a1.85 1.85 0 1 0 3.70 0a1.85 1.85 0 1 0 -3.70 0zM381.75 66.60a1.85 1.85 0 1 0 3.70 0a1.85 1.85 0 1 0 -3.70 0zM384.75 66.10a1.85 1.85 0 1 0 3.70 0a1.85 1.85 0 1 0 -3.70 0zM384.75 67.70a1.85 1.85 0 1 0 3.70 0a1.85 1.85 0 1 0 -3.70 0zM386.35 70.10a1.85 1.85 0 1 0 3.70 0a1.85 1.85 0 1 0 -3.70 0zM389.85 69.90a1.85 1.85 0 1 0 3.70 0a1.85 1.85 0 1 0 -3.70 0zM392.85 72.30a1.85 1.85 0 1 0 3.70 0a1.85 1.85 0 1 0 -3.70 0zM379.95 78.80a1.85 1.85 0 1 0 3.70 0a1.85 1.85 0 1 0 -3.70 0zM393.95 76.00a1.85 1.85 0 1 0 3.70 0a1.85 1.85 0 1 0 -3.70 0zM415.15 60.30a1.85 1.85 0 1 0 3.70 0a1.85 1.85 0 1 0 -3.70 0zM396.05 69.70a1.85 1.85 0 1 0 3.70 0a1.85 1.85 0 1 0 -3.70 0zM397.85 71.30a1.85 1.85 0 1 0 3.70 0a1.85 1.85 0 1 0 -3.70 0zM398.95 70.30a1.85 1.85 0 1 0 3.70 0a1.85 1.85 0 1 0 -3.70 0zM399.95 69.40a1.85 1.85 0 1 0 3.70 0a1.85 1.85 0 1 0 -3.70 0zM401.05 68.40a1.85 1.85 0 1 0 3.70 0a1.85 1.85 0 1 0 -3.70 0zM397.85 73.10a1.85 1.85 0 1 0 3.70 0a1.85 1.85 0 1 0 -3.70 0zM399.45 72.30a1.85 1.85 0 1 0 3.70 0a1.85 1.85 0 1 0 -3.70 0zM404.15 71.00a1.85 1.85 0 1 0 3.70 0a1.85 1.85 0 1 0 -3.70 0zM404.15 73.40a1.85 1.85 0 1 0 3.70 0a1.85 1.85 0 1 0 -3.70 0zM407.55 73.40a1.85 1.85 0 1 0 3.70 0a1.85 1.85 0 1 0 -3.70 0zM409.15 69.90a1.85 1.85 0 1 0 3.70 0a1.85 1.85 0 1 0 -3.70 0zM411.95 72.10a1.85 1.85 0 1 0 3.70 0a1.85 1.85 0 1 0 -3.70 0zM413.75 68.70a1.85 1.85 0 1 0 3.70 0a1.85 1.85 0 1 0 -3.70 0zM415.15 72.90a1.85 1.85 0 1 0 3.70 0a1.85 1.85 0 1 0 -3.70 0zM415.35 74.20a1.85 1.85 0 1 0 3.70 0a1.85 1.85 0 1 0 -3.70 0zM397.85 76.00a1.85 1.85 0 1 0 3.70 0a1.85 1.85 0 1 0 -3.70 0zM410.45 76.00a1.85 1.85 0 1 0 3.70 0a1.85 1.85 0 1 0 -3.70 0zM401.05 78.30a1.85 1.85 0 1 0 3.70 0a1.85 1.85 0 1 0 -3.70 0zM407.25 78.10a1.85 1.85 0 1 0 3.70 0a1.85 1.85 0 1 0 -3.70 0zM410.45 78.30a1.85 1.85 0 1 0 3.70 0a1.85 1.85 0 1 0 -3.70 0zM401.05 81.00a1.85 1.85 0 1 0 3.70 0a1.85 1.85 0 1 0 -3.70 0zM377.05 83.60a1.85 1.85 0 1 0 3.70 0a1.85 1.85 0 1 0 -3.70 0zM378.85 82.90a1.85 1.85 0 1 0 3.70 0a1.85 1.85 0 1 0 -3.70 0zM378.85 85.10a1.85 1.85 0 1 0 3.70 0a1.85 1.85 0 1 0 -3.70 0zM373.75 86.50a1.85 1.85 0 1 0 3.70 0a1.85 1.85 0 1 0 -3.70 0zM375.25 87.60a1.85 1.85 0 1 0 3.70 0a1.85 1.85 0 1 0 -3.70 0zM381.75 85.50a1.85 1.85 0 1 0 3.70 0a1.85 1.85 0 1 0 -3.70 0zM381.05 88.40a1.85 1.85 0 1 0 3.70 0a1.85 1.85 0 1 0 -3.70 0zM381.05 90.50a1.85 1.85 0 1 0 3.70 0a1.85 1.85 0 1 0 -3.70 0zM379.65 91.60a1.85 1.85 0 1 0 3.70 0a1.85 1.85 0 1 0 -3.70 0zM385.05 87.60a1.85 1.85 0 1 0 3.70 0a1.85 1.85 0 1 0 -3.70 0zM385.05 90.20a1.85 1.85 0 1 0 3.70 0a1.85 1.85 0 1 0 -3.70 0zM388.35 82.90a1.85 1.85 0 1 0 3.70 0a1.85 1.85 0 1 0 -3.70 0zM388.35 85.10a1.85 1.85 0 1 0 3.70 0a1.85 1.85 0 1 0 -3.70 0zM389.75 84.00a1.85 1.85 0 1 0 3.70 0a1.85 1.85 0 1 0 -3.70 0zM394.15 80.70a1.85 1.85 0 1 0 3.70 0a1.85 1.85 0 1 0 -3.70 0zM395.65 81.80a1.85 1.85 0 1 0 3.70 0a1.85 1.85 0 1 0 -3.70 0zM397.45 81.10a1.85 1.85 0 1 0 3.70 0a1.85 1.85 0 1 0 -3.70 0zM394.55 84.00a1.85 1.85 0 1 0 3.70 0a1.85 1.85 0 1 0 -3.70 0zM395.95 83.30a1.85 1.85 0 1 0 3.70 0a1.85 1.85 0 1 0 -3.70 0zM397.45 82.90a1.85 1.85 0 1 0 3.70 0a1.85 1.85 0 1 0 -3.70 0zM393.45 85.50a1.85 1.85 0 1 0 3.70 0a1.85 1.85 0 1 0 -3.70 0zM389.75 91.30a1.85 1.85 0 1 0 3.70 0a1.85 1.85 0 1 0 -3.70 0zM393.05 89.10a1.85 1.85 0 1 0 3.70 0a1.85 1.85 0 1 0 -3.70 0zM393.05 91.40a1.85 1.85 0 1 0 3.70 0a1.85 1.85 0 1 0 -3.70 0zM370.55 91.30a1.85 1.85 0 1 0 3.70 0a1.85 1.85 0 1 0 -3.70 0zM370.85 93.50a1.85 1.85 0 1 0 3.70 0a1.85 1.85 0 1 0 -3.70 0zM381.75 95.10a1.85 1.85 0 1 0 3.70 0a1.85 1.85 0 1 0 -3.70 0zM385.05 95.10a1.85 1.85 0 1 0 3.70 0a1.85 1.85 0 1 0 -3.70 0zM378.55 99.60a1.85 1.85 0 1 0 3.70 0a1.85 1.85 0 1 0 -3.70 0zM381.75 99.60a1.85 1.85 0 1 0 3.70 0a1.85 1.85 0 1 0 -3.70 0zM399.25 91.30a1.85 1.85 0 1 0 3.70 0a1.85 1.85 0 1 0 -3.70 0zM401.05 94.80a1.85 1.85 0 1 0 3.70 0a1.85 1.85 0 1 0 -3.70 0zM401.45 97.10a1.85 1.85 0 1 0 3.70 0a1.85 1.85 0 1 0 -3.70 0zM404.35 97.10a1.85 1.85 0 1 0 3.70 0a1.85 1.85 0 1 0 -3.70 0zM402.85 98.20a1.85 1.85 0 1 0 3.70 0a1.85 1.85 0 1 0 -3.70 0zM395.95 98.50a1.85 1.85 0 1 0 3.70 0a1.85 1.85 0 1 0 -3.70 0zM391.25 100.00a1.85 1.85 0 1 0 3.70 0a1.85 1.85 0 1 0 -3.70 0zM391.95 101.50a1.85 1.85 0 1 0 3.70 0a1.85 1.85 0 1 0 -3.70 0zM399.65 101.10a1.85 1.85 0 1 0 3.70 0a1.85 1.85 0 1 0 -3.70 0zM393.05 105.10a1.85 1.85 0 1 0 3.70 0a1.85 1.85 0 1 0 -3.70 0zM407.95 86.20a1.85 1.85 0 1 0 3.70 0a1.85 1.85 0 1 0 -3.70 0zM407.95 87.60a1.85 1.85 0 1 0 3.70 0a1.85 1.85 0 1 0 -3.70 0zM409.05 91.30a1.85 1.85 0 1 0 3.70 0a1.85 1.85 0 1 0 -3.70 0zM408.65 102.90a1.85 1.85 0 1 0 3.70 0a1.85 1.85 0 1 0 -3.70 0zM369.05 85.50a1.85 1.85 0 1 0 3.70 0a1.85 1.85 0 1 0 -3.70 0zM369.05 89.80a1.85 1.85 0 1 0 3.70 0a1.85 1.85 0 1 0 -3.70 0zM365.75 95.10a1.85 1.85 0 1 0 3.70 0a1.85 1.85 0 1 0 -3.70 0zM367.65 96.20a1.85 1.85 0 1 0 3.70 0a1.85 1.85 0 1 0 -3.70 0zM391.65 102.20a1.85 1.85 0 1 0 3.70 0a1.85 1.85 0 1 0 -3.70 0zM391.25 109.30a1.85 1.85 0 1 0 3.70 0a1.85 1.85 0 1 0 -3.70 0zM397.65 109.00a1.85 1.85 0 1 0 3.70 0a1.85 1.85 0 1 0 -3.70 0zM396.05 112.90a1.85 1.85 0 1 0 3.70 0a1.85 1.85 0 1 0 -3.70 0zM410.85 95.40a1.85 1.85 0 1 0 3.70 0a1.85 1.85 0 1 0 -3.70 0zM412.35 97.20a1.85 1.85 0 1 0 3.70 0a1.85 1.85 0 1 0 -3.70 0zM413.75 97.50a1.85 1.85 0 1 0 3.70 0a1.85 1.85 0 1 0 -3.70 0zM411.95 98.60a1.85 1.85 0 1 0 3.70 0a1.85 1.85 0 1 0 -3.70 0zM410.55 102.30a1.85 1.85 0 1 0 3.70 0a1.85 1.85 0 1 0 -3.70 0zM409.05 103.40a1.85 1.85 0 1 0 3.70 0a1.85 1.85 0 1 0 -3.70 0zM420.35 102.10a1.85 1.85 0 1 0 3.70 0a1.85 1.85 0 1 0 -3.70 0zM407.25 107.00a1.85 1.85 0 1 0 3.70 0a1.85 1.85 0 1 0 -3.70 0zM399.25 110.30a1.85 1.85 0 1 0 3.70 0a1.85 1.85 0 1 0 -3.70 0zM409.05 112.80a1.85 1.85 0 1 0 3.70 0a1.85 1.85 0 1 0 -3.70 0zM433.05 107.00a1.85 1.85 0 1 0 3.70 0a1.85 1.85 0 1 0 -3.70 0zM417.05 116.50a1.85 1.85 0 1 0 3.70 0a1.85 1.85 0 1 0 -3.70 0zM413.75 118.90a1.85 1.85 0 1 0 3.70 0a1.85 1.85 0 1 0 -3.70 0zM405.75 119.70a1.85 1.85 0 1 0 3.70 0a1.85 1.85 0 1 0 -3.70 0zM407.25 118.60a1.85 1.85 0 1 0 3.70 0a1.85 1.85 0 1 0 -3.70 0zM431.25 95.00a1.85 1.85 0 1 0 3.70 0a1.85 1.85 0 1 0 -3.70 0zM448.95 140.20a1.85 1.85 0 1 0 3.70 0a1.85 1.85 0 1 0 -3.70 0zM453.75 139.00a1.85 1.85 0 1 0 3.70 0a1.85 1.85 0 1 0 -3.70 0zM436.35 33.10a1.85 1.85 0 1 0 3.70 0a1.85 1.85 0 1 0 -3.70 0zM432.75 40.00a1.85 1.85 0 1 0 3.70 0a1.85 1.85 0 1 0 -3.70 0zM434.45 41.20a1.85 1.85 0 1 0 3.70 0a1.85 1.85 0 1 0 -3.70 0zM439.25 42.40a1.85 1.85 0 1 0 3.70 0a1.85 1.85 0 1 0 -3.70 0zM445.85 42.40a1.85 1.85 0 1 0 3.70 0a1.85 1.85 0 1 0 -3.70 0zM452.35 37.70a1.85 1.85 0 1 0 3.70 0a1.85 1.85 0 1 0 -3.70 0zM431.25 43.90a1.85 1.85 0 1 0 3.70 0a1.85 1.85 0 1 0 -3.70 0zM436.15 49.80a1.85 1.85 0 1 0 3.70 0a1.85 1.85 0 1 0 -3.70 0zM429.85 52.10a1.85 1.85 0 1 0 3.70 0a1.85 1.85 0 1 0 -3.70 0zM413.75 56.90a1.85 1.85 0 1 0 3.70 0a1.85 1.85 0 1 0 -3.70 0zM423.35 59.10a1.85 1.85 0 1 0 3.70 0a1.85 1.85 0 1 0 -3.70 0zM424.95 58.00a1.85 1.85 0 1 0 3.70 0a1.85 1.85 0 1 0 -3.70 0zM426.65 61.30a1.85 1.85 0 1 0 3.70 0a1.85 1.85 0 1 0 -3.70 0zM436.15 56.60a1.85 1.85 0 1 0 3.70 0a1.85 1.85 0 1 0 -3.70 0zM436.15 59.10a1.85 1.85 0 1 0 3.70 0a1.85 1.85 0 1 0 -3.70 0zM439.45 59.10a1.85 1.85 0 1 0 3.70 0a1.85 1.85 0 1 0 -3.70 0zM458.65 40.30a1.85 1.85 0 1 0 3.70 0a1.85 1.85 0 1 0 -3.70 0zM466.55 43.70a1.85 1.85 0 1 0 3.70 0a1.85 1.85 0 1 0 -3.70 0zM466.55 46.20a1.85 1.85 0 1 0 3.70 0a1.85 1.85 0 1 0 -3.70 0zM458.65 49.70a1.85 1.85 0 1 0 3.70 0a1.85 1.85 0 1 0 -3.70 0zM447.45 53.30a1.85 1.85 0 1 0 3.70 0a1.85 1.85 0 1 0 -3.70 0zM453.65 57.90a1.85 1.85 0 1 0 3.70 0a1.85 1.85 0 1 0 -3.70 0zM432.85 63.90a1.85 1.85 0 1 0 3.70 0a1.85 1.85 0 1 0 -3.70 0zM424.65 64.80a1.85 1.85 0 1 0 3.70 0a1.85 1.85 0 1 0 -3.70 0zM426.05 65.60a1.85 1.85 0 1 0 3.70 0a1.85 1.85 0 1 0 -3.70 0zM427.15 66.50a1.85 1.85 0 1 0 3.70 0a1.85 1.85 0 1 0 -3.70 0zM421.65 67.30a1.85 1.85 0 1 0 3.70 0a1.85 1.85 0 1 0 -3.70 0zM421.95 69.70a1.85 1.85 0 1 0 3.70 0a1.85 1.85 0 1 0 -3.70 0zM423.35 70.80a1.85 1.85 0 1 0 3.70 0a1.85 1.85 0 1 0 -3.70 0zM418.15 69.70a1.85 1.85 0 1 0 3.70 0a1.85 1.85 0 1 0 -3.70 0zM417.05 70.80a1.85 1.85 0 1 0 3.70 0a1.85 1.85 0 1 0 -3.70 0zM415.95 71.90a1.85 1.85 0 1 0 3.70 0a1.85 1.85 0 1 0 -3.70 0zM420.35 73.50a1.85 1.85 0 1 0 3.70 0a1.85 1.85 0 1 0 -3.70 0zM418.95 74.60a1.85 1.85 0 1 0 3.70 0a1.85 1.85 0 1 0 -3.70 0zM430.15 68.10a1.85 1.85 0 1 0 3.70 0a1.85 1.85 0 1 0 -3.70 0zM431.25 67.80a1.85 1.85 0 1 0 3.70 0a1.85 1.85 0 1 0 -3.70 0zM430.65 69.50a1.85 1.85 0 1 0 3.70 0a1.85 1.85 0 1 0 -3.70 0zM431.55 70.00a1.85 1.85 0 1 0 3.70 0a1.85 1.85 0 1 0 -3.70 0zM434.55 67.50a1.85 1.85 0 1 0 3.70 0a1.85 1.85 0 1 0 -3.70 0zM435.85 68.60a1.85 1.85 0 1 0 3.70 0a1.85 1.85 0 1 0 -3.70 0zM437.25 69.70a1.85 1.85 0 1 0 3.70 0a1.85 1.85 0 1 0 -3.70 0zM439.15 68.60a1.85 1.85 0 1 0 3.70 0a1.85 1.85 0 1 0 -3.70 0zM438.85 70.80a1.85 1.85 0 1 0 3.70 0a1.85 1.85 0 1 0 -3.70 0zM437.75 72.20a1.85 1.85 0 1 0 3.70 0a1.85 1.85 0 1 0 -3.70 0zM434.55 74.60a1.85 1.85 0 1 0 3.70 0a1.85 1.85 0 1 0 -3.70 0zM423.35 75.70a1.85 1.85 0 1 0 3.70 0a1.85 1.85 0 1 0 -3.70 0zM429.65 75.70a1.85 1.85 0 1 0 3.70 0a1.85 1.85 0 1 0 -3.70 0zM425.25 79.30a1.85 1.85 0 1 0 3.70 0a1.85 1.85 0 1 0 -3.70 0zM427.95 79.30a1.85 1.85 0 1 0 3.70 0a1.85 1.85 0 1 0 -3.70 0zM439.25 71.10a1.85 1.85 0 1 0 3.70 0a1.85 1.85 0 1 0 -3.70 0zM444.15 69.70a1.85 1.85 0 1 0 3.70 0a1.85 1.85 0 1 0 -3.70 0zM444.15 72.20a1.85 1.85 0 1 0 3.70 0a1.85 1.85 0 1 0 -3.70 0zM444.15 74.40a1.85 1.85 0 1 0 3.70 0a1.85 1.85 0 1 0 -3.70 0zM445.55 75.50a1.85 1.85 0 1 0 3.70 0a1.85 1.85 0 1 0 -3.70 0zM448.75 73.50a1.85 1.85 0 1 0 3.70 0a1.85 1.85 0 1 0 -3.70 0zM450.65 72.20a1.85 1.85 0 1 0 3.70 0a1.85 1.85 0 1 0 -3.70 0zM452.65 70.80a1.85 1.85 0 1 0 3.70 0a1.85 1.85 0 1 0 -3.70 0zM454.55 69.20a1.85 1.85 0 1 0 3.70 0a1.85 1.85 0 1 0 -3.70 0zM456.15 69.50a1.85 1.85 0 1 0 3.70 0a1.85 1.85 0 1 0 -3.70 0zM457.75 70.80a1.85 1.85 0 1 0 3.70 0a1.85 1.85 0 1 0 -3.70 0zM458.85 71.60a1.85 1.85 0 1 0 3.70 0a1.85 1.85 0 1 0 -3.70 0zM455.65 73.50a1.85 1.85 0 1 0 3.70 0a1.85 1.85 0 1 0 -3.70 0zM460.25 67.50a1.85 1.85 0 1 0 3.70 0a1.85 1.85 0 1 0 -3.70 0zM461.85 66.20a1.85 1.85 0 1 0 3.70 0a1.85 1.85 0 1 0 -3.70 0zM461.65 63.70a1.85 1.85 0 1 0 3.70 0a1.85 1.85 0 1 0 -3.70 0zM463.55 65.10a1.85 1.85 0 1 0 3.70 0a1.85 1.85 0 1 0 -3.70 0zM461.85 73.50a1.85 1.85 0 1 0 3.70 0a1.85 1.85 0 1 0 -3.70 0zM447.45 79.00a1.85 1.85 0 1 0 3.70 0a1.85 1.85 0 1 0 -3.70 0zM452.35 79.50a1.85 1.85 0 1 0 3.70 0a1.85 1.85 0 1 0 -3.70 0zM469.85 62.60a1.85 1.85 0 1 0 3.70 0a1.85 1.85 0 1 0 -3.70 0zM487.25 71.10a1.85 1.85 0 1 0 3.70 0a1.85 1.85 0 1 0 -3.70 0zM469.85 84.10a1.85 1.85 0 1 0 3.70 0a1.85 1.85 0 1 0 -3.70 0zM460.15 24.90a1.85 1.85 0 1 0 3.70 0a1.85 1.85 0 1 0 -3.70 0zM461.85 23.60a1.85 1.85 0 1 0 3.70 0a1.85 1.85 0 1 0 -3.70 0zM463.65 25.10a1.85 1.85 0 1 0 3.70 0a1.85 1.85 0 1 0 -3.70 0zM465.05 21.20a1.85 1.85 0 1 0 3.70 0a1.85 1.85 0 1 0 -3.70 0zM468.55 47.70a1.85 1.85 0 1 0 3.70 0a1.85 1.85 0 1 0 -3.70 0zM471.15 42.40a1.85 1.85 0 1 0 3.70 0a1.85 1.85 0 1 0 -3.70 0zM472.95 41.40a1.85 1.85 0 1 0 3.70 0a1.85 1.85 0 1 0 -3.70 0zM474.75 45.00a1.85 1.85 0 1 0 3.70 0a1.85 1.85 0 1 0 -3.70 0zM480.85 37.90a1.85 1.85 0 1 0 3.70 0a1.85 1.85 0 1 0 -3.70 0zM485.95 36.70a1.85 1.85 0 1 0 3.70 0a1.85 1.85 0 1 0 -3.70 0zM492.25 36.70a1.85 1.85 0 1 0 3.70 0a1.85 1.85 0 1 0 -3.70 0zM482.45 46.20a1.85 1.85 0 1 0 3.70 0a1.85 1.85 0 1 0 -3.70 0zM476.15 53.30a1.85 1.85 0 1 0 3.70 0a1.85 1.85 0 1 0 -3.70 0zM517.65 86.40a1.85 1.85 0 1 0 3.70 0a1.85 1.85 0 1 0 -3.70 0zM517.65 88.90a1.85 1.85 0 1 0 3.70 0a1.85 1.85 0 1 0 -3.70 0zM524.05 88.90a1.85 1.85 0 1 0 3.70 0a1.85 1.85 0 1 0 -3.70 0zM532.15 87.80a1.85 1.85 0 1 0 3.70 0a1.85 1.85 0 1 0 -3.70 0zM487.35 107.00a1.85 1.85 0 1 0 3.70 0a1.85 1.85 0 1 0 -3.70 0zM498.45 105.80a1.85 1.85 0 1 0 3.70 0a1.85 1.85 0 1 0 -3.70 0zM504.85 100.90a1.85 1.85 0 1 0 3.70 0a1.85 1.85 0 1 0 -3.70 0zM410.85 80.70a1.85 1.85 0 1 0 3.70 0a1.85 1.85 0 1 0 -3.70 0zM423.25 83.10a1.85 1.85 0 1 0 3.70 0a1.85 1.85 0 1 0 -3.70 0zM426.85 83.10a1.85 1.85 0 1 0 3.70 0a1.85 1.85 0 1 0 -3.70 0zM419.95 87.60a1.85 1.85 0 1 0 3.70 0a1.85 1.85 0 1 0 -3.70 0zM423.25 87.60a1.85 1.85 0 1 0 3.70 0a1.85 1.85 0 1 0 -3.70 0zM419.95 90.20a1.85 1.85 0 1 0 3.70 0a1.85 1.85 0 1 0 -3.70 0zM425.05 91.40a1.85 1.85 0 1 0 3.70 0a1.85 1.85 0 1 0 -3.70 0zM431.25 93.80a1.85 1.85 0 1 0 3.70 0a1.85 1.85 0 1 0 -3.70 0zM437.75 98.50a1.85 1.85 0 1 0 3.70 0a1.85 1.85 0 1 0 -3.70 0zM415.25 91.30a1.85 1.85 0 1 0 3.70 0a1.85 1.85 0 1 0 -3.70 0zM413.75 92.70a1.85 1.85 0 1 0 3.70 0a1.85 1.85 0 1 0 -3.70 0zM412.35 93.80a1.85 1.85 0 1 0 3.70 0a1.85 1.85 0 1 0 -3.70 0zM410.85 94.90a1.85 1.85 0 1 0 3.70 0a1.85 1.85 0 1 0 -3.70 0zM413.45 97.10a1.85 1.85 0 1 0 3.70 0a1.85 1.85 0 1 0 -3.70 0zM411.95 98.50a1.85 1.85 0 1 0 3.70 0a1.85 1.85 0 1 0 -3.70 0zM469.95 101.10a1.85 1.85 0 1 0 3.70 0a1.85 1.85 0 1 0 -3.70 0zM476.25 103.30a1.85 1.85 0 1 0 3.70 0a1.85 1.85 0 1 0 -3.70 0zM400.95 54.50a1.85 1.85 0 1 0 3.70 0a1.85 1.85 0 1 0 -3.70 0zM405.75 53.30a1.85 1.85 0 1 0 3.70 0a1.85 1.85 0 1 0 -3.70 0zM473.15 120.00a1.85 1.85 0 1 0 3.70 0a1.85 1.85 0 1 0 -3.70 0zM469.85 124.70a1.85 1.85 0 1 0 3.70 0a1.85 1.85 0 1 0 -3.70 0zM469.85 131.90a1.85 1.85 0 1 0 3.70 0a1.85 1.85 0 1 0 -3.70 0zM369.05 89.40a1.85 1.85 0 1 0 3.70 0a1.85 1.85 0 1 0 -3.70 0z" fill="#1616f2" fill-opacity="0.3"/>
<path d="M368.00 41.40a1.2 1.2 0 1 0 2.40 0a1.2 1.2 0 1 0 -2.40 0zM371.20 41.40a1.2 1.2 0 1 0 2.40 0a1.2 1.2 0 1 0 -2.40 0zM372.90 40.30a1.2 1.2 0 1 0 2.40 0a1.2 1.2 0 1 0 -2.40 0zM368.00 43.80a1.2 1.2 0 1 0 2.40 0a1.2 1.2 0 1 0 -2.40 0zM363.30 49.70a1.2 1.2 0 1 0 2.40 0a1.2 1.2 0 1 0 -2.40 0zM360.20 52.30a1.2 1.2 0 1 0 2.40 0a1.2 1.2 0 1 0 -2.40 0zM353.60 52.00a1.2 1.2 0 1 0 2.40 0a1.2 1.2 0 1 0 -2.40 0zM350.60 54.60a1.2 1.2 0 1 0 2.40 0a1.2 1.2 0 1 0 -2.40 0zM355.30 62.80a1.2 1.2 0 1 0 2.40 0a1.2 1.2 0 1 0 -2.40 0zM361.70 65.20a1.2 1.2 0 1 0 2.40 0a1.2 1.2 0 1 0 -2.40 0zM364.80 65.20a1.2 1.2 0 1 0 2.40 0a1.2 1.2 0 1 0 -2.40 0zM369.70 66.40a1.2 1.2 0 1 0 2.40 0a1.2 1.2 0 1 0 -2.40 0zM374.40 67.70a1.2 1.2 0 1 0 2.40 0a1.2 1.2 0 1 0 -2.40 0zM337.60 71.20a1.2 1.2 0 1 0 2.40 0a1.2 1.2 0 1 0 -2.40 0zM345.60 72.20a1.2 1.2 0 1 0 2.40 0a1.2 1.2 0 1 0 -2.40 0zM358.40 70.00a1.2 1.2 0 1 0 2.40 0a1.2 1.2 0 1 0 -2.40 0zM363.40 71.20a1.2 1.2 0 1 0 2.40 0a1.2 1.2 0 1 0 -2.40 0zM368.20 72.20a1.2 1.2 0 1 0 2.40 0a1.2 1.2 0 1 0 -2.40 0zM369.70 71.00a1.2 1.2 0 1 0 2.40 0a1.2 1.2 0 1 0 -2.40 0zM371.30 70.00a1.2 1.2 0 1 0 2.40 0a1.2 1.2 0 1 0 -2.40 0zM373.00 76.00a1.2 1.2 0 1 0 2.40 0a1.2 1.2 0 1 0 -2.40 0zM406.50 15.30a1.2 1.2 0 1 0 2.40 0a1.2 1.2 0 1 0 -2.40 0zM408.00 16.30a1.2 1.2 0 1 0 2.40 0a1.2 1.2 0 1 0 -2.40 0zM404.80 21.30a1.2 1.2 0 1 0 2.40 0a1.2 1.2 0 1 0 -2.40 0zM404.80 23.60a1.2 1.2 0 1 0 2.40 0a1.2 1.2 0 1 0 -2.40 0zM401.70 33.10a1.2 1.2 0 1 0 2.40 0a1.2 1.2 0 1 0 -2.40 0zM375.80 68.60a1.2 1.2 0 1 0 2.40 0a1.2 1.2 0 1 0 -2.40 0zM377.40 69.60a1.2 1.2 0 1 0 2.40 0a1.2 1.2 0 1 0 -2.40 0zM378.90 71.00a1.2 1.2 0 1 0 2.40 0a1.2 1.2 0 1 0 -2.40 0zM379.80 72.00a1.2 1.2 0 1 0 2.40 0a1.2 1.2 0 1 0 -2.40 0zM379.10 73.40a1.2 1.2 0 1 0 2.40 0a1.2 1.2 0 1 0 -2.40 0zM380.80 68.10a1.2 1.2 0 1 0 2.40 0a1.2 1.2 0 1 0 -2.40 0zM382.40 66.60a1.2 1.2 0 1 0 2.40 0a1.2 1.2 0 1 0 -2.40 0zM385.40 66.10a1.2 1.2 0 1 0 2.40 0a1.2 1.2 0 1 0 -2.40 0zM385.40 67.70a1.2 1.2 0 1 0 2.40 0a1.2 1.2 0 1 0 -2.40 0zM387.00 70.10a1.2 1.2 0 1 0 2.40 0a1.2 1.2 0 1 0 -2.40 0zM390.50 69.90a1.2 1.2 0 1 0 2.40 0a1.2 1.2 0 1 0 -2.40 0zM393.50 72.30a1.2 1.2 0 1 0 2.40 0a1.2 1.2 0 1 0 -2.40 0zM380.60 78.80a1.2 1.2 0 1 0 2.40 0a1.2 1.2 0 1 0 -2.40 0zM394.60 76.00a1.2 1.2 0 1 0 2.40 0a1.2 1.2 0 1 0 -2.40 0zM415.80 60.30a1.2 1.2 0 1 0 2.40 0a1.2 1.2 0 1 0 -2.40 0zM396.70 69.70a1.2 1.2 0 1 0 2.40 0a1.2 1.2 0 1 0 -2.40 0zM398.50 71.30a1.2 1.2 0 1 0 2.40 0a1.2 1.2 0 1 0 -2.40 0zM399.60 70.30a1.2 1.2 0 1 0 2.40 0a1.2 1.2 0 1 0 -2.40 0zM400.60 69.40a1.2 1.2 0 1 0 2.40 0a1.2 1.2 0 1 0 -2.40 0zM401.70 68.40a1.2 1.2 0 1 0 2.40 0a1.2 1.2 0 1 0 -2.40 0zM398.50 73.10a1.2 1.2 0 1 0 2.40 0a1.2 1.2 0 1 0 -2.40 0zM400.10 72.30a1.2 1.2 0 1 0 2.40 0a1.2 1.2 0 1 0 -2.40 0zM404.80 71.00a1.2 1.2 0 1 0 2.40 0a1.2 1.2 0 1 0 -2.40 0zM404.80 73.40a1.2 1.2 0 1 0 2.40 0a1.2 1.2 0 1 0 -2.40 0zM408.20 73.40a1.2 1.2 0 1 0 2.40 0a1.2 1.2 0 1 0 -2.40 0zM409.80 69.90a1.2 1.2 0 1 0 2.40 0a1.2 1.2 0 1 0 -2.40 0zM412.60 72.10a1.2 1.2 0 1 0 2.40 0a1.2 1.2 0 1 0 -2.40 0zM414.40 68.70a1.2 1.2 0 1 0 2.40 0a1.2 1.2 0 1 0 -2.40 0zM415.80 72.90a1.2 1.2 0 1 0 2.40 0a1.2 1.2 0 1 0 -2.40 0zM416.00 74.20a1.2 1.2 0 1 0 2.40 0a1.2 1.2 0 1 0 -2.40 0zM398.50 76.00a1.2 1.2 0 1 0 2.40 0a1.2 1.2 0 1 0 -2.40 0zM411.10 76.00a1.2 1.2 0 1 0 2.40 0a1.2 1.2 0 1 0 -2.40 0zM401.70 78.30a1.2 1.2 0 1 0 2.40 0a1.2 1.2 0 1 0 -2.40 0zM407.90 78.10a1.2 1.2 0 1 0 2.40 0a1.2 1.2 0 1 0 -2.40 0zM411.10 78.30a1.2 1.2 0 1 0 2.40 0a1.2 1.2 0 1 0 -2.40 0zM401.70 81.00a1.2 1.2 0 1 0 2.40 0a1.2 1.2 0 1 0 -2.40 0zM377.70 83.60a1.2 1.2 0 1 0 2.40 0a1.2 1.2 0 1 0 -2.40 0zM379.50 82.90a1.2 1.2 0 1 0 2.40 0a1.2 1.2 0 1 0 -2.40 0zM379.50 85.10a1.2 1.2 0 1 0 2.40 0a1.2 1.2 0 1 0 -2.40 0zM374.40 86.50a1.2 1.2 0 1 0 2.40 0a1.2 1.2 0 1 0 -2.40 0zM375.90 87.60a1.2 1.2 0 1 0 2.40 0a1.2 1.2 0 1 0 -2.40 0zM382.40 85.50a1.2 1.2 0 1 0 2.40 0a1.2 1.2 0 1 0 -2.40 0zM381.70 88.40a1.2 1.2 0 1 0 2.40 0a1.2 1.2 0 1 0 -2.40 0zM381.70 90.50a1.2 1.2 0 1 0 2.40 0a1.2 1.2 0 1 0 -2.40 0zM380.30 91.60a1.2 1.2 0 1 0 2.40 0a1.2 1.2 0 1 0 -2.40 0zM385.70 87.60a1.2 1.2 0 1 0 2.40 0a1.2 1.2 0 1 0 -2.40 0zM385.70 90.20a1.2 1.2 0 1 0 2.40 0a1.2 1.2 0 1 0 -2.40 0zM389.00 82.90a1.2 1.2 0 1 0 2.40 0a1.2 1.2 0 1 0 -2.40 0zM389.00 85.10a1.2 1.2 0 1 0 2.40 0a1.2 1.2 0 1 0 -2.40 0zM390.40 84.00a1.2 1.2 0 1 0 2.40 0a1.2 1.2 0 1 0 -2.40 0zM394.80 80.70a1.2 1.2 0 1 0 2.40 0a1.2 1.2 0 1 0 -2.40 0zM396.30 81.80a1.2 1.2 0 1 0 2.40 0a1.2 1.2 0 1 0 -2.40 0zM398.10 81.10a1.2 1.2 0 1 0 2.40 0a1.2 1.2 0 1 0 -2.40 0zM395.20 84.00a1.2 1.2 0 1 0 2.40 0a1.2 1.2 0 1 0 -2.40 0zM396.60 83.30a1.2 1.2 0 1 0 2.40 0a1.2 1.2 0 1 0 -2.40 0zM398.10 82.90a1.2 1.2 0 1 0 2.40 0a1.2 1.2 0 1 0 -2.40 0zM394.10 85.50a1.2 1.2 0 1 0 2.40 0a1.2 1.2 0 1 0 -2.40 0zM390.40 91.30a1.2 1.2 0 1 0 2.40 0a1.2 1.2 0 1 0 -2.40 0zM393.70 89.10a1.2 1.2 0 1 0 2.40 0a1.2 1.2 0 1 0 -2.40 0zM393.70 91.40a1.2 1.2 0 1 0 2.40 0a1.2 1.2 0 1 0 -2.40 0zM371.20 91.30a1.2 1.2 0 1 0 2.40 0a1.2 1.2 0 1 0 -2.40 0zM371.50 93.50a1.2 1.2 0 1 0 2.40 0a1.2 1.2 0 1 0 -2.40 0zM382.40 95.10a1.2 1.2 0 1 0 2.40 0a1.2 1.2 0 1 0 -2.40 0zM385.70 95.10a1.2 1.2 0 1 0 2.40 0a1.2 1.2 0 1 0 -2.40 0zM379.20 99.60a1.2 1.2 0 1 0 2.40 0a1.2 1.2 0 1 0 -2.40 0zM382.40 99.60a1.2 1.2 0 1 0 2.40 0a1.2 1.2 0 1 0 -2.40 0zM399.90 91.30a1.2 1.2 0 1 0 2.40 0a1.2 1.2 0 1 0 -2.40 0zM401.70 94.80a1.2 1.2 0 1 0 2.40 0a1.2 1.2 0 1 0 -2.40 0zM402.10 97.10a1.2 1.2 0 1 0 2.40 0a1.2 1.2 0 1 0 -2.40 0zM405.00 97.10a1.2 1.2 0 1 0 2.40 0a1.2 1.2 0 1 0 -2.40 0zM403.50 98.20a1.2 1.2 0 1 0 2.40 0a1.2 1.2 0 1 0 -2.40 0zM396.60 98.50a1.2 1.2 0 1 0 2.40 0a1.2 1.2 0 1 0 -2.40 0zM391.90 100.00a1.2 1.2 0 1 0 2.40 0a1.2 1.2 0 1 0 -2.40 0zM392.60 101.50a1.2 1.2 0 1 0 2.40 0a1.2 1.2 0 1 0 -2.40 0zM400.30 101.10a1.2 1.2 0 1 0 2.40 0a1.2 1.2 0 1 0 -2.40 0zM393.70 105.10a1.2 1.2 0 1 0 2.40 0a1.2 1.2 0 1 0 -2.40 0zM408.60 86.20a1.2 1.2 0 1 0 2.40 0a1.2 1.2 0 1 0 -2.40 0zM408.60 87.60a1.2 1.2 0 1 0 2.40 0a1.2 1.2 0 1 0 -2.40 0zM409.70 91.30a1.2 1.2 0 1 0 2.40 0a1.2 1.2 0 1 0 -2.40 0zM409.30 102.90a1.2 1.2 0 1 0 2.40 0a1.2 1.2 0 1 0 -2.40 0zM369.70 85.50a1.2 1.2 0 1 0 2.40 0a1.2 1.2 0 1 0 -2.40 0zM369.70 89.80a1.2 1.2 0 1 0 2.40 0a1.2 1.2 0 1 0 -2.40 0zM366.40 95.10a1.2 1.2 0 1 0 2.40 0a1.2 1.2 0 1 0 -2.40 0zM368.30 96.20a1.2 1.2 0 1 0 2.40 0a1.2 1.2 0 1 0 -2.40 0zM392.30 102.20a1.2 1.2 0 1 0 2.40 0a1.2 1.2 0 1 0 -2.40 0zM391.90 109.30a1.2 1.2 0 1 0 2.40 0a1.2 1.2 0 1 0 -2.40 0zM398.30 109.00a1.2 1.2 0 1 0 2.40 0a1.2 1.2 0 1 0 -2.40 0zM396.70 112.90a1.2 1.2 0 1 0 2.40 0a1.2 1.2 0 1 0 -2.40 0zM411.50 95.40a1.2 1.2 0 1 0 2.40 0a1.2 1.2 0 1 0 -2.40 0zM413.00 97.20a1.2 1.2 0 1 0 2.40 0a1.2 1.2 0 1 0 -2.40 0zM414.40 97.50a1.2 1.2 0 1 0 2.40 0a1.2 1.2 0 1 0 -2.40 0zM412.60 98.60a1.2 1.2 0 1 0 2.40 0a1.2 1.2 0 1 0 -2.40 0zM411.20 102.30a1.2 1.2 0 1 0 2.40 0a1.2 1.2 0 1 0 -2.40 0zM409.70 103.40a1.2 1.2 0 1 0 2.40 0a1.2 1.2 0 1 0 -2.40 0zM421.00 102.10a1.2 1.2 0 1 0 2.40 0a1.2 1.2 0 1 0 -2.40 0zM407.90 107.00a1.2 1.2 0 1 0 2.40 0a1.2 1.2 0 1 0 -2.40 0zM399.90 110.30a1.2 1.2 0 1 0 2.40 0a1.2 1.2 0 1 0 -2.40 0zM409.70 112.80a1.2 1.2 0 1 0 2.40 0a1.2 1.2 0 1 0 -2.40 0zM433.70 107.00a1.2 1.2 0 1 0 2.40 0a1.2 1.2 0 1 0 -2.40 0zM417.70 116.50a1.2 1.2 0 1 0 2.40 0a1.2 1.2 0 1 0 -2.40 0zM414.40 118.90a1.2 1.2 0 1 0 2.40 0a1.2 1.2 0 1 0 -2.40 0zM406.40 119.70a1.2 1.2 0 1 0 2.40 0a1.2 1.2 0 1 0 -2.40 0zM407.90 118.60a1.2 1.2 0 1 0 2.40 0a1.2 1.2 0 1 0 -2.40 0zM431.90 95.00a1.2 1.2 0 1 0 2.40 0a1.2 1.2 0 1 0 -2.40 0zM449.60 140.20a1.2 1.2 0 1 0 2.40 0a1.2 1.2 0 1 0 -2.40 0zM454.40 139.00a1.2 1.2 0 1 0 2.40 0a1.2 1.2 0 1 0 -2.40 0zM437.00 33.10a1.2 1.2 0 1 0 2.40 0a1.2 1.2 0 1 0 -2.40 0zM433.40 40.00a1.2 1.2 0 1 0 2.40 0a1.2 1.2 0 1 0 -2.40 0zM435.10 41.20a1.2 1.2 0 1 0 2.40 0a1.2 1.2 0 1 0 -2.40 0zM439.90 42.40a1.2 1.2 0 1 0 2.40 0a1.2 1.2 0 1 0 -2.40 0zM446.50 42.40a1.2 1.2 0 1 0 2.40 0a1.2 1.2 0 1 0 -2.40 0zM453.00 37.70a1.2 1.2 0 1 0 2.40 0a1.2 1.2 0 1 0 -2.40 0zM431.90 43.90a1.2 1.2 0 1 0 2.40 0a1.2 1.2 0 1 0 -2.40 0zM436.80 49.80a1.2 1.2 0 1 0 2.40 0a1.2 1.2 0 1 0 -2.40 0zM430.50 52.10a1.2 1.2 0 1 0 2.40 0a1.2 1.2 0 1 0 -2.40 0zM414.40 56.90a1.2 1.2 0 1 0 2.40 0a1.2 1.2 0 1 0 -2.40 0zM424.00 59.10a1.2 1.2 0 1 0 2.40 0a1.2 1.2 0 1 0 -2.40 0zM425.60 58.00a1.2 1.2 0 1 0 2.40 0a1.2 1.2 0 1 0 -2.40 0zM427.30 61.30a1.2 1.2 0 1 0 2.40 0a1.2 1.2 0 1 0 -2.40 0zM436.80 56.60a1.2 1.2 0 1 0 2.40 0a1.2 1.2 0 1 0 -2.40 0zM436.80 59.10a1.2 1.2 0 1 0 2.40 0a1.2 1.2 0 1 0 -2.40 0zM440.10 59.10a1.2 1.2 0 1 0 2.40 0a1.2 1.2 0 1 0 -2.40 0zM459.30 40.30a1.2 1.2 0 1 0 2.40 0a1.2 1.2 0 1 0 -2.40 0zM467.20 43.70a1.2 1.2 0 1 0 2.40 0a1.2 1.2 0 1 0 -2.40 0zM467.20 46.20a1.2 1.2 0 1 0 2.40 0a1.2 1.2 0 1 0 -2.40 0zM459.30 49.70a1.2 1.2 0 1 0 2.40 0a1.2 1.2 0 1 0 -2.40 0zM448.10 53.30a1.2 1.2 0 1 0 2.40 0a1.2 1.2 0 1 0 -2.40 0zM454.30 57.90a1.2 1.2 0 1 0 2.40 0a1.2 1.2 0 1 0 -2.40 0zM433.50 63.90a1.2 1.2 0 1 0 2.40 0a1.2 1.2 0 1 0 -2.40 0zM425.30 64.80a1.2 1.2 0 1 0 2.40 0a1.2 1.2 0 1 0 -2.40 0zM426.70 65.60a1.2 1.2 0 1 0 2.40 0a1.2 1.2 0 1 0 -2.40 0zM427.80 66.50a1.2 1.2 0 1 0 2.40 0a1.2 1.2 0 1 0 -2.40 0zM422.30 67.30a1.2 1.2 0 1 0 2.40 0a1.2 1.2 0 1 0 -2.40 0zM422.60 69.70a1.2 1.2 0 1 0 2.40 0a1.2 1.2 0 1 0 -2.40 0zM424.00 70.80a1.2 1.2 0 1 0 2.40 0a1.2 1.2 0 1 0 -2.40 0zM418.80 69.70a1.2 1.2 0 1 0 2.40 0a1.2 1.2 0 1 0 -2.40 0zM417.70 70.80a1.2 1.2 0 1 0 2.40 0a1.2 1.2 0 1 0 -2.40 0zM416.60 71.90a1.2 1.2 0 1 0 2.40 0a1.2 1.2 0 1 0 -2.40 0zM421.00 73.50a1.2 1.2 0 1 0 2.40 0a1.2 1.2 0 1 0 -2.40 0zM419.60 74.60a1.2 1.2 0 1 0 2.40 0a1.2 1.2 0 1 0 -2.40 0zM430.80 68.10a1.2 1.2 0 1 0 2.40 0a1.2 1.2 0 1 0 -2.40 0zM431.90 67.80a1.2 1.2 0 1 0 2.40 0a1.2 1.2 0 1 0 -2.40 0zM431.30 69.50a1.2 1.2 0 1 0 2.40 0a1.2 1.2 0 1 0 -2.40 0zM432.20 70.00a1.2 1.2 0 1 0 2.40 0a1.2 1.2 0 1 0 -2.40 0zM435.20 67.50a1.2 1.2 0 1 0 2.40 0a1.2 1.2 0 1 0 -2.40 0zM436.50 68.60a1.2 1.2 0 1 0 2.40 0a1.2 1.2 0 1 0 -2.40 0zM437.90 69.70a1.2 1.2 0 1 0 2.40 0a1.2 1.2 0 1 0 -2.40 0zM439.80 68.60a1.2 1.2 0 1 0 2.40 0a1.2 1.2 0 1 0 -2.40 0zM439.50 70.80a1.2 1.2 0 1 0 2.40 0a1.2 1.2 0 1 0 -2.40 0zM438.40 72.20a1.2 1.2 0 1 0 2.40 0a1.2 1.2 0 1 0 -2.40 0zM435.20 74.60a1.2 1.2 0 1 0 2.40 0a1.2 1.2 0 1 0 -2.40 0zM424.00 75.70a1.2 1.2 0 1 0 2.40 0a1.2 1.2 0 1 0 -2.40 0zM430.30 75.70a1.2 1.2 0 1 0 2.40 0a1.2 1.2 0 1 0 -2.40 0zM425.90 79.30a1.2 1.2 0 1 0 2.40 0a1.2 1.2 0 1 0 -2.40 0zM428.60 79.30a1.2 1.2 0 1 0 2.40 0a1.2 1.2 0 1 0 -2.40 0zM439.90 71.10a1.2 1.2 0 1 0 2.40 0a1.2 1.2 0 1 0 -2.40 0zM444.80 69.70a1.2 1.2 0 1 0 2.40 0a1.2 1.2 0 1 0 -2.40 0zM444.80 72.20a1.2 1.2 0 1 0 2.40 0a1.2 1.2 0 1 0 -2.40 0zM444.80 74.40a1.2 1.2 0 1 0 2.40 0a1.2 1.2 0 1 0 -2.40 0zM446.20 75.50a1.2 1.2 0 1 0 2.40 0a1.2 1.2 0 1 0 -2.40 0zM449.40 73.50a1.2 1.2 0 1 0 2.40 0a1.2 1.2 0 1 0 -2.40 0zM451.30 72.20a1.2 1.2 0 1 0 2.40 0a1.2 1.2 0 1 0 -2.40 0zM453.30 70.80a1.2 1.2 0 1 0 2.40 0a1.2 1.2 0 1 0 -2.40 0zM455.20 69.20a1.2 1.2 0 1 0 2.40 0a1.2 1.2 0 1 0 -2.40 0zM456.80 69.50a1.2 1.2 0 1 0 2.40 0a1.2 1.2 0 1 0 -2.40 0zM458.40 70.80a1.2 1.2 0 1 0 2.40 0a1.2 1.2 0 1 0 -2.40 0zM459.50 71.60a1.2 1.2 0 1 0 2.40 0a1.2 1.2 0 1 0 -2.40 0zM456.30 73.50a1.2 1.2 0 1 0 2.40 0a1.2 1.2 0 1 0 -2.40 0zM460.90 67.50a1.2 1.2 0 1 0 2.40 0a1.2 1.2 0 1 0 -2.40 0zM462.50 66.20a1.2 1.2 0 1 0 2.40 0a1.2 1.2 0 1 0 -2.40 0zM462.30 63.70a1.2 1.2 0 1 0 2.40 0a1.2 1.2 0 1 0 -2.40 0zM464.20 65.10a1.2 1.2 0 1 0 2.40 0a1.2 1.2 0 1 0 -2.40 0zM462.50 73.50a1.2 1.2 0 1 0 2.40 0a1.2 1.2 0 1 0 -2.40 0zM448.10 79.00a1.2 1.2 0 1 0 2.40 0a1.2 1.2 0 1 0 -2.40 0zM453.00 79.50a1.2 1.2 0 1 0 2.40 0a1.2 1.2 0 1 0 -2.40 0zM470.50 62.60a1.2 1.2 0 1 0 2.40 0a1.2 1.2 0 1 0 -2.40 0zM487.90 71.10a1.2 1.2 0 1 0 2.40 0a1.2 1.2 0 1 0 -2.40 0zM470.50 84.10a1.2 1.2 0 1 0 2.40 0a1.2 1.2 0 1 0 -2.40 0zM460.80 24.90a1.2 1.2 0 1 0 2.40 0a1.2 1.2 0 1 0 -2.40 0zM462.50 23.60a1.2 1.2 0 1 0 2.40 0a1.2 1.2 0 1 0 -2.40 0zM464.30 25.10a1.2 1.2 0 1 0 2.40 0a1.2 1.2 0 1 0 -2.40 0zM465.70 21.20a1.2 1.2 0 1 0 2.40 0a1.2 1.2 0 1 0 -2.40 0zM469.20 47.70a1.2 1.2 0 1 0 2.40 0a1.2 1.2 0 1 0 -2.40 0zM471.80 42.40a1.2 1.2 0 1 0 2.40 0a1.2 1.2 0 1 0 -2.40 0zM473.60 41.40a1.2 1.2 0 1 0 2.40 0a1.2 1.2 0 1 0 -2.40 0zM475.40 45.00a1.2 1.2 0 1 0 2.40 0a1.2 1.2 0 1 0 -2.40 0zM481.50 37.90a1.2 1.2 0 1 0 2.40 0a1.2 1.2 0 1 0 -2.40 0zM486.60 36.70a1.2 1.2 0 1 0 2.40 0a1.2 1.2 0 1 0 -2.40 0zM492.90 36.70a1.2 1.2 0 1 0 2.40 0a1.2 1.2 0 1 0 -2.40 0zM483.10 46.20a1.2 1.2 0 1 0 2.40 0a1.2 1.2 0 1 0 -2.40 0zM476.80 53.30a1.2 1.2 0 1 0 2.40 0a1.2 1.2 0 1 0 -2.40 0zM518.30 86.40a1.2 1.2 0 1 0 2.40 0a1.2 1.2 0 1 0 -2.40 0zM518.30 88.90a1.2 1.2 0 1 0 2.40 0a1.2 1.2 0 1 0 -2.40 0zM524.70 88.90a1.2 1.2 0 1 0 2.40 0a1.2 1.2 0 1 0 -2.40 0zM532.80 87.80a1.2 1.2 0 1 0 2.40 0a1.2 1.2 0 1 0 -2.40 0zM488.00 107.00a1.2 1.2 0 1 0 2.40 0a1.2 1.2 0 1 0 -2.40 0zM499.10 105.80a1.2 1.2 0 1 0 2.40 0a1.2 1.2 0 1 0 -2.40 0zM505.50 100.90a1.2 1.2 0 1 0 2.40 0a1.2 1.2 0 1 0 -2.40 0zM411.50 80.70a1.2 1.2 0 1 0 2.40 0a1.2 1.2 0 1 0 -2.40 0zM423.90 83.10a1.2 1.2 0 1 0 2.40 0a1.2 1.2 0 1 0 -2.40 0zM427.50 83.10a1.2 1.2 0 1 0 2.40 0a1.2 1.2 0 1 0 -2.40 0zM420.60 87.60a1.2 1.2 0 1 0 2.40 0a1.2 1.2 0 1 0 -2.40 0zM423.90 87.60a1.2 1.2 0 1 0 2.40 0a1.2 1.2 0 1 0 -2.40 0zM420.60 90.20a1.2 1.2 0 1 0 2.40 0a1.2 1.2 0 1 0 -2.40 0zM425.70 91.40a1.2 1.2 0 1 0 2.40 0a1.2 1.2 0 1 0 -2.40 0zM431.90 93.80a1.2 1.2 0 1 0 2.40 0a1.2 1.2 0 1 0 -2.40 0zM438.40 98.50a1.2 1.2 0 1 0 2.40 0a1.2 1.2 0 1 0 -2.40 0zM415.90 91.30a1.2 1.2 0 1 0 2.40 0a1.2 1.2 0 1 0 -2.40 0zM414.40 92.70a1.2 1.2 0 1 0 2.40 0a1.2 1.2 0 1 0 -2.40 0zM413.00 93.80a1.2 1.2 0 1 0 2.40 0a1.2 1.2 0 1 0 -2.40 0zM411.50 94.90a1.2 1.2 0 1 0 2.40 0a1.2 1.2 0 1 0 -2.40 0zM414.10 97.10a1.2 1.2 0 1 0 2.40 0a1.2 1.2 0 1 0 -2.40 0zM412.60 98.50a1.2 1.2 0 1 0 2.40 0a1.2 1.2 0 1 0 -2.40 0zM470.60 101.10a1.2 1.2 0 1 0 2.40 0a1.2 1.2 0 1 0 -2.40 0zM476.90 103.30a1.2 1.2 0 1 0 2.40 0a1.2 1.2 0 1 0 -2.40 0zM401.60 54.50a1.2 1.2 0 1 0 2.40 0a1.2 1.2 0 1 0 -2.40 0zM406.40 53.30a1.2 1.2 0 1 0 2.40 0a1.2 1.2 0 1 0 -2.40 0zM473.80 120.00a1.2 1.2 0 1 0 2.40 0a1.2 1.2 0 1 0 -2.40 0zM470.50 124.70a1.2 1.2 0 1 0 2.40 0a1.2 1.2 0 1 0 -2.40 0zM470.50 131.90a1.2 1.2 0 1 0 2.40 0a1.2 1.2 0 1 0 -2.40 0zM369.70 89.40a1.2 1.2 0 1 0 2.40 0a1.2 1.2 0 1 0 -2.40 0z" fill="#1616f2"/>
<line x1="338.80" y1="33.40" x2="533.90" y2="33.40" stroke="#ff0000" stroke-width="1.3" stroke-dasharray="4 1.9" stroke-opacity="0.45"/>
<line x1="338.80" y1="117.80" x2="533.90" y2="117.80" stroke="#ff0000" stroke-width="1.3" stroke-dasharray="4 1.9" stroke-opacity="0.45"/>
<line x1="338.80" y1="75.50" x2="533.90" y2="75.50" stroke="#000000" stroke-width="1.5" stroke-opacity="0.28"/>
<text x="502.70" y="38.38" font-size="4.4" text-anchor="start" fill="#ff1a1a" stroke="#ff1a1a" stroke-width="0.12" font-weight="bold">+1.96SD:</text>
<text x="502.70" y="47.88" font-size="4.4" text-anchor="start" fill="#ff1a1a" stroke="#ff1a1a" stroke-width="0.12" font-weight="bold">12.6623</text>
<text x="486.00" y="80.30" font-size="4.2" text-anchor="start" fill="#000" stroke="#000" stroke-width="0.2" font-weight="bold">MEAN:</text>
<text x="486.00" y="90.08" font-size="4.4" text-anchor="start" fill="#000" stroke="#000" stroke-width="0.2" font-weight="bold">-1.6117</text>
<text x="504.20" y="122.98" font-size="4.4" text-anchor="start" fill="#ff1a1a" stroke="#ff1a1a" stroke-width="0.12" font-weight="bold">-1.96SD:</text>
<text x="504.20" y="132.18" font-size="4.4" text-anchor="start" fill="#ff1a1a" stroke="#ff1a1a" stroke-width="0.12" font-weight="bold">-15.8858</text>
<text transform="translate(309.11,123.10) rotate(-90)" font-size="5.9" text-anchor="middle" stroke="#000" stroke-width="0.15" font-weight="normal">HR</text>
<text transform="translate(314.65,110.20) rotate(-90)" font-size="4.6" text-anchor="middle" stroke="#000" stroke-width="0.15" font-weight="normal">rad</text>
<text transform="translate(309.11,97.00) rotate(-90)" font-size="5.9" text-anchor="middle" stroke="#000" stroke-width="0.15" font-weight="normal">-HR</text>
<text transform="translate(314.65,82.00) rotate(-90)" font-size="4.6" text-anchor="middle" stroke="#000" stroke-width="0.15" font-weight="normal">ref</text>
<text transform="translate(311.11,65.80) rotate(-90)" font-size="5.9" text-anchor="middle" stroke="#000" stroke-width="0.15" font-weight="normal">(BPM)</text>
<text x="387.70" y="181.71" font-size="5.9" text-anchor="start" fill="#000" stroke="#000" stroke-width="0.15" font-weight="normal">(HR</text>
<text x="404.70" y="185.65" font-size="4.6" text-anchor="start" fill="#000" stroke="#000" stroke-width="0.15" font-weight="normal">rad</text>
<text x="416.50" y="179.81" font-size="5.9" text-anchor="start" fill="#000" stroke="#000" stroke-width="0.15" font-weight="normal">+HR</text>
<text x="435.60" y="185.65" font-size="4.6" text-anchor="start" fill="#000" stroke="#000" stroke-width="0.15" font-weight="normal">ref</text>
<text x="445.50" y="181.71" font-size="5.9" text-anchor="start" fill="#000" stroke="#000" stroke-width="0.15" font-weight="normal">)/2 (BPM)</text>
<line x1="43.50" y1="218.10" x2="43.50" y2="368.30" stroke="#8a8a8a" stroke-width="1.0"/>
<line x1="43.00" y1="367.80" x2="243.60" y2="367.80" stroke="#8a8a8a" stroke-width="1.0"/>
<line x1="43.50" y1="218.60" x2="45.70" y2="218.60" stroke="#8a8a8a" stroke-width="0.8"/>
<text x="37.00" y="217.99" font-size="5.0" text-anchor="end" fill="#000" stroke="#000" stroke-width="0.2" font-weight="bold">10</text>
<line x1="43.50" y1="256.00" x2="45.70" y2="256.00" stroke="#8a8a8a" stroke-width="0.8"/>
<text x="38.40" y="255.39" font-size="5.0" text-anchor="end" fill="#000" stroke="#000" stroke-width="0.2" font-weight="bold">5</text>
<line x1="43.50" y1="293.40" x2="45.70" y2="293.40" stroke="#8a8a8a" stroke-width="0.8"/>
<text x="38.40" y="292.79" font-size="5.0" text-anchor="end" fill="#000" stroke="#000" stroke-width="0.2" font-weight="bold">0</text>
<line x1="43.50" y1="330.80" x2="45.70" y2="330.80" stroke="#8a8a8a" stroke-width="0.8"/>
<text x="37.00" y="330.19" font-size="5.0" text-anchor="end" fill="#000" stroke="#000" stroke-width="0.2" font-weight="bold">-5</text>
<line x1="43.50" y1="368.20" x2="45.70" y2="368.20" stroke="#8a8a8a" stroke-width="0.8"/>
<text x="35.60" y="367.59" font-size="5.0" text-anchor="end" fill="#000" stroke="#000" stroke-width="0.2" font-weight="bold">-10</text>
<line x1="43.30" y1="367.80" x2="43.30" y2="365.60" stroke="#8a8a8a" stroke-width="0.8"/>
<text x="42.40" y="375.79" font-size="5.0" text-anchor="middle" fill="#000" stroke="#000" stroke-width="0.2" font-weight="bold">5</text>
<line x1="106.60" y1="367.80" x2="106.60" y2="365.60" stroke="#8a8a8a" stroke-width="0.8"/>
<text x="104.90" y="375.79" font-size="5.0" text-anchor="middle" fill="#000" stroke="#000" stroke-width="0.2" font-weight="bold">10</text>
<line x1="169.90" y1="367.80" x2="169.90" y2="365.60" stroke="#8a8a8a" stroke-width="0.8"/>
<text x="168.20" y="375.79" font-size="5.0" text-anchor="middle" fill="#000" stroke="#000" stroke-width="0.2" font-weight="bold">15</text>
<line x1="233.20" y1="367.80" x2="233.20" y2="365.60" stroke="#8a8a8a" stroke-width="0.8"/>
<text x="231.50" y="375.79" font-size="5.0" text-anchor="middle" fill="#000" stroke="#000" stroke-width="0.2" font-weight="bold">20</text>
<path d="M59.00 293.30a1.85 1.85 0 1 0 3.70 0a1.85 1.85 0 1 0 -3.70 0zM61.53 296.29a1.85 1.85 0 1 0 3.70 0a1.85 1.85 0 1 0 -3.70 0zM64.06 293.30a1.85 1.85 0 1 0 3.70 0a1.85 1.85 0 1 0 -3.70 0zM66.60 290.31a1.85 1.85 0 1 0 3.70 0a1.85 1.85 0 1 0 -3.70 0zM66.60 296.29a1.85 1.85 0 1 0 3.70 0a1.85 1.85 0 1 0 -3.70 0zM69.13 293.30a1.85 1.85 0 1 0 3.70 0a1.85 1.85 0 1 0 -3.70 0zM71.66 290.31a1.85 1.85 0 1 0 3.70 0a1.85 1.85 0 1 0 -3.70 0zM71.66 296.29a1.85 1.85 0 1 0 3.70 0a1.85 1.85 0 1 0 -3.70 0zM74.19 293.30a1.85 1.85 0 1 0 3.70 0a1.85 1.85 0 1 0 -3.70 0zM76.72 290.31a1.85 1.85 0 1 0 3.70 0a1.85 1.85 0 1 0 -3.70 0zM76.72 296.29a1.85 1.85 0 1 0 3.70 0a1.85 1.85 0 1 0 -3.70 0zM79.26 293.30a1.85 1.85 0 1 0 3.70 0a1.85 1.85 0 1 0 -3.70 0zM84.32 293.30a1.85 1.85 0 1 0 3.70 0a1.85 1.85 0 1 0 -3.70 0zM86.85 290.31a1.85 1.85 0 1 0 3.70 0a1.85 1.85 0 1 0 -3.70 0zM86.85 296.29a1.85 1.85 0 1 0 3.70 0a1.85 1.85 0 1 0 -3.70 0zM89.38 293.30a1.85 1.85 0 1 0 3.70 0a1.85 1.85 0 1 0 -3.70 0zM89.38 305.26a1.85 1.85 0 1 0 3.70 0a1.85 1.85 0 1 0 -3.70 0zM91.92 290.31a1.85 1.85 0 1 0 3.70 0a1.85 1.85 0 1 0 -3.70 0zM91.92 296.29a1.85 1.85 0 1 0 3.70 0a1.85 1.85 0 1 0 -3.70 0zM91.92 302.27a1.85 1.85 0 1 0 3.70 0a1.85 1.85 0 1 0 -3.70 0zM94.45 293.30a1.85 1.85 0 1 0 3.70 0a1.85 1.85 0 1 0 -3.70 0zM94.45 299.28a1.85 1.85 0 1 0 3.70 0a1.85 1.85 0 1 0 -3.70 0zM96.98 290.31a1.85 1.85 0 1 0 3.70 0a1.85 1.85 0 1 0 -3.70 0zM96.98 296.29a1.85 1.85 0 1 0 3.70 0a1.85 1.85 0 1 0 -3.70 0zM99.51 293.30a1.85 1.85 0 1 0 3.70 0a1.85 1.85 0 1 0 -3.70 0zM102.04 284.33a1.85 1.85 0 1 0 3.70 0a1.85 1.85 0 1 0 -3.70 0zM102.04 296.29a1.85 1.85 0 1 0 3.70 0a1.85 1.85 0 1 0 -3.70 0zM104.58 287.32a1.85 1.85 0 1 0 3.70 0a1.85 1.85 0 1 0 -3.70 0zM104.58 293.30a1.85 1.85 0 1 0 3.70 0a1.85 1.85 0 1 0 -3.70 0zM104.58 299.28a1.85 1.85 0 1 0 3.70 0a1.85 1.85 0 1 0 -3.70 0zM107.11 290.31a1.85 1.85 0 1 0 3.70 0a1.85 1.85 0 1 0 -3.70 0zM109.64 287.32a1.85 1.85 0 1 0 3.70 0a1.85 1.85 0 1 0 -3.70 0zM109.64 293.30a1.85 1.85 0 1 0 3.70 0a1.85 1.85 0 1 0 -3.70 0zM109.64 299.28a1.85 1.85 0 1 0 3.70 0a1.85 1.85 0 1 0 -3.70 0zM112.17 290.31a1.85 1.85 0 1 0 3.70 0a1.85 1.85 0 1 0 -3.70 0zM112.17 302.27a1.85 1.85 0 1 0 3.70 0a1.85 1.85 0 1 0 -3.70 0zM114.70 287.32a1.85 1.85 0 1 0 3.70 0a1.85 1.85 0 1 0 -3.70 0zM114.70 293.30a1.85 1.85 0 1 0 3.70 0a1.85 1.85 0 1 0 -3.70 0zM117.24 290.31a1.85 1.85 0 1 0 3.70 0a1.85 1.85 0 1 0 -3.70 0zM117.24 296.29a1.85 1.85 0 1 0 3.70 0a1.85 1.85 0 1 0 -3.70 0zM119.77 287.32a1.85 1.85 0 1 0 3.70 0a1.85 1.85 0 1 0 -3.70 0zM119.77 293.30a1.85 1.85 0 1 0 3.70 0a1.85 1.85 0 1 0 -3.70 0zM122.30 290.31a1.85 1.85 0 1 0 3.70 0a1.85 1.85 0 1 0 -3.70 0zM122.30 296.29a1.85 1.85 0 1 0 3.70 0a1.85 1.85 0 1 0 -3.70 0zM124.83 293.30a1.85 1.85 0 1 0 3.70 0a1.85 1.85 0 1 0 -3.70 0zM127.36 290.31a1.85 1.85 0 1 0 3.70 0a1.85 1.85 0 1 0 -3.70 0zM127.36 296.29a1.85 1.85 0 1 0 3.70 0a1.85 1.85 0 1 0 -3.70 0zM129.90 251.44a1.85 1.85 0 1 0 3.70 0a1.85 1.85 0 1 0 -3.70 0zM129.90 293.30a1.85 1.85 0 1 0 3.70 0a1.85 1.85 0 1 0 -3.70 0zM132.43 290.31a1.85 1.85 0 1 0 3.70 0a1.85 1.85 0 1 0 -3.70 0zM132.43 296.29a1.85 1.85 0 1 0 3.70 0a1.85 1.85 0 1 0 -3.70 0zM134.96 293.30a1.85 1.85 0 1 0 3.70 0a1.85 1.85 0 1 0 -3.70 0zM137.49 290.31a1.85 1.85 0 1 0 3.70 0a1.85 1.85 0 1 0 -3.70 0zM137.49 296.29a1.85 1.85 0 1 0 3.70 0a1.85 1.85 0 1 0 -3.70 0zM140.02 293.30a1.85 1.85 0 1 0 3.70 0a1.85 1.85 0 1 0 -3.70 0zM140.02 299.28a1.85 1.85 0 1 0 3.70 0a1.85 1.85 0 1 0 -3.70 0zM142.56 290.31a1.85 1.85 0 1 0 3.70 0a1.85 1.85 0 1 0 -3.70 0zM142.56 296.29a1.85 1.85 0 1 0 3.70 0a1.85 1.85 0 1 0 -3.70 0zM145.09 293.30a1.85 1.85 0 1 0 3.70 0a1.85 1.85 0 1 0 -3.70 0zM150.15 293.30a1.85 1.85 0 1 0 3.70 0a1.85 1.85 0 1 0 -3.70 0zM152.68 296.29a1.85 1.85 0 1 0 3.70 0a1.85 1.85 0 1 0 -3.70 0zM152.68 302.27a1.85 1.85 0 1 0 3.70 0a1.85 1.85 0 1 0 -3.70 0zM155.22 293.30a1.85 1.85 0 1 0 3.70 0a1.85 1.85 0 1 0 -3.70 0zM155.22 335.16a1.85 1.85 0 1 0 3.70 0a1.85 1.85 0 1 0 -3.70 0zM160.28 305.26a1.85 1.85 0 1 0 3.70 0a1.85 1.85 0 1 0 -3.70 0zM162.81 290.31a1.85 1.85 0 1 0 3.70 0a1.85 1.85 0 1 0 -3.70 0zM162.81 296.29a1.85 1.85 0 1 0 3.70 0a1.85 1.85 0 1 0 -3.70 0zM165.34 221.54a1.85 1.85 0 1 0 3.70 0a1.85 1.85 0 1 0 -3.70 0zM165.34 293.30a1.85 1.85 0 1 0 3.70 0a1.85 1.85 0 1 0 -3.70 0zM167.88 290.31a1.85 1.85 0 1 0 3.70 0a1.85 1.85 0 1 0 -3.70 0zM170.41 293.30a1.85 1.85 0 1 0 3.70 0a1.85 1.85 0 1 0 -3.70 0zM170.41 359.08a1.85 1.85 0 1 0 3.70 0a1.85 1.85 0 1 0 -3.70 0zM172.94 290.31a1.85 1.85 0 1 0 3.70 0a1.85 1.85 0 1 0 -3.70 0zM172.94 296.29a1.85 1.85 0 1 0 3.70 0a1.85 1.85 0 1 0 -3.70 0zM175.47 293.30a1.85 1.85 0 1 0 3.70 0a1.85 1.85 0 1 0 -3.70 0zM178.00 290.31a1.85 1.85 0 1 0 3.70 0a1.85 1.85 0 1 0 -3.70 0zM178.00 296.29a1.85 1.85 0 1 0 3.70 0a1.85 1.85 0 1 0 -3.70 0zM180.54 263.40a1.85 1.85 0 1 0 3.70 0a1.85 1.85 0 1 0 -3.70 0zM180.54 293.30a1.85 1.85 0 1 0 3.70 0a1.85 1.85 0 1 0 -3.70 0zM185.60 293.30a1.85 1.85 0 1 0 3.70 0a1.85 1.85 0 1 0 -3.70 0zM185.60 317.22a1.85 1.85 0 1 0 3.70 0a1.85 1.85 0 1 0 -3.70 0zM188.13 290.31a1.85 1.85 0 1 0 3.70 0a1.85 1.85 0 1 0 -3.70 0zM188.13 296.29a1.85 1.85 0 1 0 3.70 0a1.85 1.85 0 1 0 -3.70 0zM190.66 293.30a1.85 1.85 0 1 0 3.70 0a1.85 1.85 0 1 0 -3.70 0zM193.20 296.29a1.85 1.85 0 1 0 3.70 0a1.85 1.85 0 1 0 -3.70 0zM195.73 293.30a1.85 1.85 0 1 0 3.70 0a1.85 1.85 0 1 0 -3.70 0zM198.26 290.31a1.85 1.85 0 1 0 3.70 0a1.85 1.85 0 1 0 -3.70 0zM198.26 296.29a1.85 1.85 0 1 0 3.70 0a1.85 1.85 0 1 0 -3.70 0zM203.32 296.29a1.85 1.85 0 1 0 3.70 0a1.85 1.85 0 1 0 -3.70 0zM205.86 293.30a1.85 1.85 0 1 0 3.70 0a1.85 1.85 0 1 0 -3.70 0zM210.92 293.30a1.85 1.85 0 1 0 3.70 0a1.85 1.85 0 1 0 -3.70 0zM215.98 293.30a1.85 1.85 0 1 0 3.70 0a1.85 1.85 0 1 0 -3.70 0zM218.52 290.31a1.85 1.85 0 1 0 3.70 0a1.85 1.85 0 1 0 -3.70 0zM221.05 293.30a1.85 1.85 0 1 0 3.70 0a1.85 1.85 0 1 0 -3.70 0zM223.58 290.31a1.85 1.85 0 1 0 3.70 0a1.85 1.85 0 1 0 -3.70 0zM226.11 293.30a1.85 1.85 0 1 0 3.70 0a1.85 1.85 0 1 0 -3.70 0zM231.18 293.30a1.85 1.85 0 1 0 3.70 0a1.85 1.85 0 1 0 -3.70 0zM233.71 290.31a1.85 1.85 0 1 0 3.70 0a1.85 1.85 0 1 0 -3.70 0zM236.24 293.30a1.85 1.85 0 1 0 3.70 0a1.85 1.85 0 1 0 -3.70 0zM238.77 296.29a1.85 1.85 0 1 0 3.70 0a1.85 1.85 0 1 0 -3.70 0zM241.30 293.30a1.85 1.85 0 1 0 3.70 0a1.85 1.85 0 1 0 -3.70 0z" fill="#1616f2" fill-opacity="0.3"/>
<path d="M59.65 293.30a1.2 1.2 0 1 0 2.40 0a1.2 1.2 0 1 0 -2.40 0zM62.18 296.29a1.2 1.2 0 1 0 2.40 0a1.2 1.2 0 1 0 -2.40 0zM64.71 293.30a1.2 1.2 0 1 0 2.40 0a1.2 1.2 0 1 0 -2.40 0zM67.25 290.31a1.2 1.2 0 1 0 2.40 0a1.2 1.2 0 1 0 -2.40 0zM67.25 296.29a1.2 1.2 0 1 0 2.40 0a1.2 1.2 0 1 0 -2.40 0zM69.78 293.30a1.2 1.2 0 1 0 2.40 0a1.2 1.2 0 1 0 -2.40 0zM72.31 290.31a1.2 1.2 0 1 0 2.40 0a1.2 1.2 0 1 0 -2.40 0zM72.31 296.29a1.2 1.2 0 1 0 2.40 0a1.2 1.2 0 1 0 -2.40 0zM74.84 293.30a1.2 1.2 0 1 0 2.40 0a1.2 1.2 0 1 0 -2.40 0zM77.37 290.31a1.2 1.2 0 1 0 2.40 0a1.2 1.2 0 1 0 -2.40 0zM77.37 296.29a1.2 1.2 0 1 0 2.40 0a1.2 1.2 0 1 0 -2.40 0zM79.91 293.30a1.2 1.2 0 1 0 2.40 0a1.2 1.2 0 1 0 -2.40 0zM84.97 293.30a1.2 1.2 0 1 0 2.40 0a1.2 1.2 0 1 0 -2.40 0zM87.50 290.31a1.2 1.2 0 1 0 2.40 0a1.2 1.2 0 1 0 -2.40 0zM87.50 296.29a1.2 1.2 0 1 0 2.40 0a1.2 1.2 0 1 0 -2.40 0zM90.03 293.30a1.2 1.2 0 1 0 2.40 0a1.2 1.2 0 1 0 -2.40 0zM90.03 305.26a1.2 1.2 0 1 0 2.40 0a1.2 1.2 0 1 0 -2.40 0zM92.57 290.31a1.2 1.2 0 1 0 2.40 0a1.2 1.2 0 1 0 -2.40 0zM92.57 296.29a1.2 1.2 0 1 0 2.40 0a1.2 1.2 0 1 0 -2.40 0zM92.57 302.27a1.2 1.2 0 1 0 2.40 0a1.2 1.2 0 1 0 -2.40 0zM95.10 293.30a1.2 1.2 0 1 0 2.40 0a1.2 1.2 0 1 0 -2.40 0zM95.10 299.28a1.2 1.2 0 1 0 2.40 0a1.2 1.2 0 1 0 -2.40 0zM97.63 290.31a1.2 1.2 0 1 0 2.40 0a1.2 1.2 0 1 0 -2.40 0zM97.63 296.29a1.2 1.2 0 1 0 2.40 0a1.2 1.2 0 1 0 -2.40 0zM100.16 293.30a1.2 1.2 0 1 0 2.40 0a1.2 1.2 0 1 0 -2.40 0zM102.69 284.33a1.2 1.2 0 1 0 2.40 0a1.2 1.2 0 1 0 -2.40 0zM102.69 296.29a1.2 1.2 0 1 0 2.40 0a1.2 1.2 0 1 0 -2.40 0zM105.23 287.32a1.2 1.2 0 1 0 2.40 0a1.2 1.2 0 1 0 -2.40 0zM105.23 293.30a1.2 1.2 0 1 0 2.40 0a1.2 1.2 0 1 0 -2.40 0zM105.23 299.28a1.2 1.2 0 1 0 2.40 0a1.2 1.2 0 1 0 -2.40 0zM107.76 290.31a1.2 1.2 0 1 0 2.40 0a1.2 1.2 0 1 0 -2.40 0zM110.29 287.32a1.2 1.2 0 1 0 2.40 0a1.2 1.2 0 1 0 -2.40 0zM110.29 293.30a1.2 1.2 0 1 0 2.40 0a1.2 1.2 0 1 0 -2.40 0zM110.29 299.28a1.2 1.2 0 1 0 2.40 0a1.2 1.2 0 1 0 -2.40 0zM112.82 290.31a1.2 1.2 0 1 0 2.40 0a1.2 1.2 0 1 0 -2.40 0zM112.82 302.27a1.2 1.2 0 1 0 2.40 0a1.2 1.2 0 1 0 -2.40 0zM115.35 287.32a1.2 1.2 0 1 0 2.40 0a1.2 1.2 0 1 0 -2.40 0zM115.35 293.30a1.2 1.2 0 1 0 2.40 0a1.2 1.2 0 1 0 -2.40 0zM117.89 290.31a1.2 1.2 0 1 0 2.40 0a1.2 1.2 0 1 0 -2.40 0zM117.89 296.29a1.2 1.2 0 1 0 2.40 0a1.2 1.2 0 1 0 -2.40 0zM120.42 287.32a1.2 1.2 0 1 0 2.40 0a1.2 1.2 0 1 0 -2.40 0zM120.42 293.30a1.2 1.2 0 1 0 2.40 0a1.2 1.2 0 1 0 -2.40 0zM122.95 290.31a1.2 1.2 0 1 0 2.40 0a1.2 1.2 0 1 0 -2.40 0zM122.95 296.29a1.2 1.2 0 1 0 2.40 0a1.2 1.2 0 1 0 -2.40 0zM125.48 293.30a1.2 1.2 0 1 0 2.40 0a1.2 1.2 0 1 0 -2.40 0zM128.01 290.31a1.2 1.2 0 1 0 2.40 0a1.2 1.2 0 1 0 -2.40 0zM128.01 296.29a1.2 1.2 0 1 0 2.40 0a1.2 1.2 0 1 0 -2.40 0zM130.55 251.44a1.2 1.2 0 1 0 2.40 0a1.2 1.2 0 1 0 -2.40 0zM130.55 293.30a1.2 1.2 0 1 0 2.40 0a1.2 1.2 0 1 0 -2.40 0zM133.08 290.31a1.2 1.2 0 1 0 2.40 0a1.2 1.2 0 1 0 -2.40 0zM133.08 296.29a1.2 1.2 0 1 0 2.40 0a1.2 1.2 0 1 0 -2.40 0zM135.61 293.30a1.2 1.2 0 1 0 2.40 0a1.2 1.2 0 1 0 -2.40 0zM138.14 290.31a1.2 1.2 0 1 0 2.40 0a1.2 1.2 0 1 0 -2.40 0zM138.14 296.29a1.2 1.2 0 1 0 2.40 0a1.2 1.2 0 1 0 -2.40 0zM140.67 293.30a1.2 1.2 0 1 0 2.40 0a1.2 1.2 0 1 0 -2.40 0zM140.67 299.28a1.2 1.2 0 1 0 2.40 0a1.2 1.2 0 1 0 -2.40 0zM143.21 290.31a1.2 1.2 0 1 0 2.40 0a1.2 1.2 0 1 0 -2.40 0zM143.21 296.29a1.2 1.2 0 1 0 2.40 0a1.2 1.2 0 1 0 -2.40 0zM145.74 293.30a1.2 1.2 0 1 0 2.40 0a1.2 1.2 0 1 0 -2.40 0zM150.80 293.30a1.2 1.2 0 1 0 2.40 0a1.2 1.2 0 1 0 -2.40 0zM153.33 296.29a1.2 1.2 0 1 0 2.40 0a1.2 1.2 0 1 0 -2.40 0zM153.33 302.27a1.2 1.2 0 1 0 2.40 0a1.2 1.2 0 1 0 -2.40 0zM155.87 293.30a1.2 1.2 0 1 0 2.40 0a1.2 1.2 0 1 0 -2.40 0zM155.87 335.16a1.2 1.2 0 1 0 2.40 0a1.2 1.2 0 1 0 -2.40 0zM160.93 305.26a1.2 1.2 0 1 0 2.40 0a1.2 1.2 0 1 0 -2.40 0zM163.46 290.31a1.2 1.2 0 1 0 2.40 0a1.2 1.2 0 1 0 -2.40 0zM163.46 296.29a1.2 1.2 0 1 0 2.40 0a1.2 1.2 0 1 0 -2.40 0zM165.99 221.54a1.2 1.2 0 1 0 2.40 0a1.2 1.2 0 1 0 -2.40 0zM165.99 293.30a1.2 1.2 0 1 0 2.40 0a1.2 1.2 0 1 0 -2.40 0zM168.53 290.31a1.2 1.2 0 1 0 2.40 0a1.2 1.2 0 1 0 -2.40 0zM171.06 293.30a1.2 1.2 0 1 0 2.40 0a1.2 1.2 0 1 0 -2.40 0zM171.06 359.08a1.2 1.2 0 1 0 2.40 0a1.2 1.2 0 1 0 -2.40 0zM173.59 290.31a1.2 1.2 0 1 0 2.40 0a1.2 1.2 0 1 0 -2.40 0zM173.59 296.29a1.2 1.2 0 1 0 2.40 0a1.2 1.2 0 1 0 -2.40 0zM176.12 293.30a1.2 1.2 0 1 0 2.40 0a1.2 1.2 0 1 0 -2.40 0zM178.65 290.31a1.2 1.2 0 1 0 2.40 0a1.2 1.2 0 1 0 -2.40 0zM178.65 296.29a1.2 1.2 0 1 0 2.40 0a1.2 1.2 0 1 0 -2.40 0zM181.19 263.40a1.2 1.2 0 1 0 2.40 0a1.2 1.2 0 1 0 -2.40 0zM181.19 293.30a1.2 1.2 0 1 0 2.40 0a1.2 1.2 0 1 0 -2.40 0zM186.25 293.30a1.2 1.2 0 1 0 2.40 0a1.2 1.2 0 1 0 -2.40 0zM186.25 317.22a1.2 1.2 0 1 0 2.40 0a1.2 1.2 0 1 0 -2.40 0zM188.78 290.31a1.2 1.2 0 1 0 2.40 0a1.2 1.2 0 1 0 -2.40 0zM188.78 296.29a1.2 1.2 0 1 0 2.40 0a1.2 1.2 0 1 0 -2.40 0zM191.31 293.30a1.2 1.2 0 1 0 2.40 0a1.2 1.2 0 1 0 -2.40 0zM193.85 296.29a1.2 1.2 0 1 0 2.40 0a1.2 1.2 0 1 0 -2.40 0zM196.38 293.30a1.2 1.2 0 1 0 2.40 0a1.2 1.2 0 1 0 -2.40 0zM198.91 290.31a1.2 1.2 0 1 0 2.40 0a1.2 1.2 0 1 0 -2.40 0zM198.91 296.29a1.2 1.2 0 1 0 2.40 0a1.2 1.2 0 1 0 -2.40 0zM203.97 296.29a1.2 1.2 0 1 0 2.40 0a1.2 1.2 0 1 0 -2.40 0zM206.51 293.30a1.2 1.2 0 1 0 2.40 0a1.2 1.2 0 1 0 -2.40 0zM211.57 293.30a1.2 1.2 0 1 0 2.40 0a1.2 1.2 0 1 0 -2.40 0zM216.63 293.30a1.2 1.2 0 1 0 2.40 0a1.2 1.2 0 1 0 -2.40 0zM219.17 290.31a1.2 1.2 0 1 0 2.40 0a1.2 1.2 0 1 0 -2.40 0zM221.70 293.30a1.2 1.2 0 1 0 2.40 0a1.2 1.2 0 1 0 -2.40 0zM224.23 290.31a1.2 1.2 0 1 0 2.40 0a1.2 1.2 0 1 0 -2.40 0zM226.76 293.30a1.2 1.2 0 1 0 2.40 0a1.2 1.2 0 1 0 -2.40 0zM231.83 293.30a1.2 1.2 0 1 0 2.40 0a1.2 1.2 0 1 0 -2.40 0zM234.36 290.31a1.2 1.2 0 1 0 2.40 0a1.2 1.2 0 1 0 -2.40 0zM236.89 293.30a1.2 1.2 0 1 0 2.40 0a1.2 1.2 0 1 0 -2.40 0zM239.42 296.29a1.2 1.2 0 1 0 2.40 0a1.2 1.2 0 1 0 -2.40 0zM241.95 293.30a1.2 1.2 0 1 0 2.40 0a1.2 1.2 0 1 0 -2.40 0z" fill="#1616f2"/>
<line x1="60.80" y1="278.10" x2="242.60" y2="278.10" stroke="#ff0000" stroke-width="1.3" stroke-dasharray="4 1.9" stroke-opacity="0.45"/>
<line x1="60.80" y1="308.50" x2="242.60" y2="308.50" stroke="#ff0000" stroke-width="1.3" stroke-dasharray="4 1.9" stroke-opacity="0.45"/>
<line x1="60.80" y1="293.50" x2="243.30" y2="293.50" stroke="#000000" stroke-width="1.5" stroke-opacity="0.28"/>
<text x="201.20" y="261.48" font-size="4.4" text-anchor="start" fill="#ff1a1a" stroke="#ff1a1a" stroke-width="0.12" font-weight="bold">+1.96SD:</text>
<text x="201.20" y="271.08" font-size="4.4" text-anchor="start" fill="#ff1a1a" stroke="#ff1a1a" stroke-width="0.12" font-weight="bold">2.0296</text>
<text x="182.20" y="302.48" font-size="4.4" text-anchor="start" fill="#000" stroke="#000" stroke-width="0.2" font-weight="bold">MEAN: -0.0224</text>
<text x="203.50" y="316.68" font-size="4.4" text-anchor="start" fill="#ff1a1a" stroke="#ff1a1a" stroke-width="0.12" font-weight="bold">-1.96SD:</text>
<text x="203.50" y="326.18" font-size="4.4" text-anchor="start" fill="#ff1a1a" stroke="#ff1a1a" stroke-width="0.12" font-weight="bold">-2.0744</text>
<text transform="translate(15.31,330.80) rotate(-90)" font-size="5.9" text-anchor="middle" stroke="#000" stroke-width="0.15" font-weight="normal">RR</text>
<text transform="translate(21.05,317.50) rotate(-90)" font-size="4.6" text-anchor="middle" stroke="#000" stroke-width="0.15" font-weight="normal">rad</text>
<text transform="translate(15.31,302.60) rotate(-90)" font-size="5.9" text-anchor="middle" stroke="#000" stroke-width="0.15" font-weight="normal">-RR</text>
<text transform="translate(20.45,289.20) rotate(-90)" font-size="4.6" text-anchor="middle" stroke="#000" stroke-width="0.15" font-weight="normal">ref</text>
<text transform="translate(15.51,271.20) rotate(-90)" font-size="5.9" text-anchor="middle" stroke="#000" stroke-width="0.15" font-weight="normal">(BPM)</text>
<text x="94.00" y="388.51" font-size="5.9" text-anchor="start" fill="#000" stroke="#000" stroke-width="0.15" font-weight="normal">(RR</text>
<text x="111.00" y="392.25" font-size="4.6" text-anchor="start" fill="#000" stroke="#000" stroke-width="0.15" font-weight="normal">rad</text>
<text x="122.60" y="387.11" font-size="5.9" text-anchor="start" fill="#000" stroke="#000" stroke-width="0.15" font-weight="normal">+RR</text>
<text x="142.00" y="391.85" font-size="4.6" text-anchor="start" fill="#000" stroke="#000" stroke-width="0.15" font-weight="normal">ref</text>
<text x="152.00" y="388.51" font-size="5.9" text-anchor="start" fill="#000" stroke="#000" stroke-width="0.15" font-weight="normal">)/2 (BPM)</text>
<line x1="336.60" y1="217.90" x2="336.60" y2="367.50" stroke="#8a8a8a" stroke-width="1.0"/>
<line x1="336.10" y1="367.00" x2="540.00" y2="367.00" stroke="#8a8a8a" stroke-width="1.0"/>
<line x1="336.60" y1="218.40" x2="338.80" y2="218.40" stroke="#8a8a8a" stroke-width="0.8"/>
<text x="330.20" y="217.79" font-size="5.0" text-anchor="end" fill="#000" stroke="#000" stroke-width="0.2" font-weight="bold">20</text>
<line x1="336.60" y1="255.60" x2="338.80" y2="255.60" stroke="#8a8a8a" stroke-width="0.8"/>
<text x="330.20" y="254.99" font-size="5.0" text-anchor="end" fill="#000" stroke="#000" stroke-width="0.2" font-weight="bold">10</text>
<line x1="336.60" y1="292.80" x2="338.80" y2="292.80" stroke="#8a8a8a" stroke-width="0.8"/>
<text x="331.60" y="292.19" font-size="5.0" text-anchor="end" fill="#000" stroke="#000" stroke-width="0.2" font-weight="bold">0</text>
<line x1="336.60" y1="330.00" x2="338.80" y2="330.00" stroke="#8a8a8a" stroke-width="0.8"/>
<text x="328.80" y="329.39" font-size="5.0" text-anchor="end" fill="#000" stroke="#000" stroke-width="0.2" font-weight="bold">-10</text>
<line x1="336.60" y1="367.20" x2="338.80" y2="367.20" stroke="#8a8a8a" stroke-width="0.8"/>
<text x="328.80" y="366.59" font-size="5.0" text-anchor="end" fill="#000" stroke="#000" stroke-width="0.2" font-weight="bold">-20</text>
<line x1="336.60" y1="367.00" x2="336.60" y2="364.80" stroke="#8a8a8a" stroke-width="0.8"/>
<text x="334.90" y="375.19" font-size="5.0" text-anchor="middle" fill="#000" stroke="#000" stroke-width="0.2" font-weight="bold">50</text>
<line x1="368.30" y1="367.00" x2="368.30" y2="364.80" stroke="#8a8a8a" stroke-width="0.8"/>
<text x="366.60" y="375.19" font-size="5.0" text-anchor="middle" fill="#000" stroke="#000" stroke-width="0.2" font-weight="bold">55</text>
<line x1="400.00" y1="367.00" x2="400.00" y2="364.80" stroke="#8a8a8a" stroke-width="0.8"/>
<text x="398.30" y="375.19" font-size="5.0" text-anchor="middle" fill="#000" stroke="#000" stroke-width="0.2" font-weight="bold">60</text>
<line x1="431.70" y1="367.00" x2="431.70" y2="364.80" stroke="#8a8a8a" stroke-width="0.8"/>
<text x="430.00" y="375.19" font-size="5.0" text-anchor="middle" fill="#000" stroke="#000" stroke-width="0.2" font-weight="bold">65</text>
<line x1="463.40" y1="367.00" x2="463.40" y2="364.80" stroke="#8a8a8a" stroke-width="0.8"/>
<text x="461.70" y="375.19" font-size="5.0" text-anchor="middle" fill="#000" stroke="#000" stroke-width="0.2" font-weight="bold">70</text>
<line x1="495.10" y1="367.00" x2="495.10" y2="364.80" stroke="#8a8a8a" stroke-width="0.8"/>
<text x="493.40" y="375.19" font-size="5.0" text-anchor="middle" fill="#000" stroke="#000" stroke-width="0.2" font-weight="bold">75</text>
<line x1="526.80" y1="367.00" x2="526.80" y2="364.80" stroke="#8a8a8a" stroke-width="0.8"/>
<text x="525.10" y="375.19" font-size="5.0" text-anchor="middle" fill="#000" stroke="#000" stroke-width="0.2" font-weight="bold">80</text>
<path d="M363.65 291.30a1.85 1.85 0 1 0 3.70 0a1.85 1.85 0 1 0 -3.70 0zM365.15 292.90a1.85 1.85 0 1 0 3.70 0a1.85 1.85 0 1 0 -3.70 0zM366.35 290.80a1.85 1.85 0 1 0 3.70 0a1.85 1.85 0 1 0 -3.70 0zM370.15 289.20a1.85 1.85 0 1 0 3.70 0a1.85 1.85 0 1 0 -3.70 0zM371.75 290.80a1.85 1.85 0 1 0 3.70 0a1.85 1.85 0 1 0 -3.70 0zM372.65 292.90a1.85 1.85 0 1 0 3.70 0a1.85 1.85 0 1 0 -3.70 0zM375.65 292.90a1.85 1.85 0 1 0 3.70 0a1.85 1.85 0 1 0 -3.70 0zM380.45 289.70a1.85 1.85 0 1 0 3.70 0a1.85 1.85 0 1 0 -3.70 0zM381.75 291.30a1.85 1.85 0 1 0 3.70 0a1.85 1.85 0 1 0 -3.70 0zM383.45 290.90a1.85 1.85 0 1 0 3.70 0a1.85 1.85 0 1 0 -3.70 0zM384.85 291.60a1.85 1.85 0 1 0 3.70 0a1.85 1.85 0 1 0 -3.70 0zM387.75 292.40a1.85 1.85 0 1 0 3.70 0a1.85 1.85 0 1 0 -3.70 0zM389.25 291.30a1.85 1.85 0 1 0 3.70 0a1.85 1.85 0 1 0 -3.70 0zM392.85 292.70a1.85 1.85 0 1 0 3.70 0a1.85 1.85 0 1 0 -3.70 0zM394.35 291.60a1.85 1.85 0 1 0 3.70 0a1.85 1.85 0 1 0 -3.70 0zM395.75 290.90a1.85 1.85 0 1 0 3.70 0a1.85 1.85 0 1 0 -3.70 0zM397.25 292.00a1.85 1.85 0 1 0 3.70 0a1.85 1.85 0 1 0 -3.70 0zM398.65 293.50a1.85 1.85 0 1 0 3.70 0a1.85 1.85 0 1 0 -3.70 0zM400.15 291.30a1.85 1.85 0 1 0 3.70 0a1.85 1.85 0 1 0 -3.70 0zM401.65 290.90a1.85 1.85 0 1 0 3.70 0a1.85 1.85 0 1 0 -3.70 0zM404.15 288.00a1.85 1.85 0 1 0 3.70 0a1.85 1.85 0 1 0 -3.70 0zM404.55 289.50a1.85 1.85 0 1 0 3.70 0a1.85 1.85 0 1 0 -3.70 0zM405.95 291.30a1.85 1.85 0 1 0 3.70 0a1.85 1.85 0 1 0 -3.70 0zM407.45 292.40a1.85 1.85 0 1 0 3.70 0a1.85 1.85 0 1 0 -3.70 0zM409.65 292.70a1.85 1.85 0 1 0 3.70 0a1.85 1.85 0 1 0 -3.70 0zM411.75 292.70a1.85 1.85 0 1 0 3.70 0a1.85 1.85 0 1 0 -3.70 0zM413.25 291.30a1.85 1.85 0 1 0 3.70 0a1.85 1.85 0 1 0 -3.70 0zM414.65 290.50a1.85 1.85 0 1 0 3.70 0a1.85 1.85 0 1 0 -3.70 0zM412.55 294.00a1.85 1.85 0 1 0 3.70 0a1.85 1.85 0 1 0 -3.70 0zM416.85 291.70a1.85 1.85 0 1 0 3.70 0a1.85 1.85 0 1 0 -3.70 0zM415.55 293.10a1.85 1.85 0 1 0 3.70 0a1.85 1.85 0 1 0 -3.70 0zM418.25 290.80a1.85 1.85 0 1 0 3.70 0a1.85 1.85 0 1 0 -3.70 0zM418.25 293.10a1.85 1.85 0 1 0 3.70 0a1.85 1.85 0 1 0 -3.70 0zM408.45 292.60a1.85 1.85 0 1 0 3.70 0a1.85 1.85 0 1 0 -3.70 0zM403.15 292.00a1.85 1.85 0 1 0 3.70 0a1.85 1.85 0 1 0 -3.70 0zM409.75 279.80a1.85 1.85 0 1 0 3.70 0a1.85 1.85 0 1 0 -3.70 0zM432.45 299.30a1.85 1.85 0 1 0 3.70 0a1.85 1.85 0 1 0 -3.70 0zM433.65 298.70a1.85 1.85 0 1 0 3.70 0a1.85 1.85 0 1 0 -3.70 0zM436.15 298.70a1.85 1.85 0 1 0 3.70 0a1.85 1.85 0 1 0 -3.70 0zM443.65 298.60a1.85 1.85 0 1 0 3.70 0a1.85 1.85 0 1 0 -3.70 0zM452.75 300.10a1.85 1.85 0 1 0 3.70 0a1.85 1.85 0 1 0 -3.70 0zM444.95 287.80a1.85 1.85 0 1 0 3.70 0a1.85 1.85 0 1 0 -3.70 0zM460.55 293.60a1.85 1.85 0 1 0 3.70 0a1.85 1.85 0 1 0 -3.70 0zM463.05 291.10a1.85 1.85 0 1 0 3.70 0a1.85 1.85 0 1 0 -3.70 0zM466.65 289.60a1.85 1.85 0 1 0 3.70 0a1.85 1.85 0 1 0 -3.70 0zM468.15 290.40a1.85 1.85 0 1 0 3.70 0a1.85 1.85 0 1 0 -3.70 0zM469.25 289.60a1.85 1.85 0 1 0 3.70 0a1.85 1.85 0 1 0 -3.70 0zM471.75 289.60a1.85 1.85 0 1 0 3.70 0a1.85 1.85 0 1 0 -3.70 0zM472.85 288.20a1.85 1.85 0 1 0 3.70 0a1.85 1.85 0 1 0 -3.70 0zM476.85 289.60a1.85 1.85 0 1 0 3.70 0a1.85 1.85 0 1 0 -3.70 0zM474.35 295.50a1.85 1.85 0 1 0 3.70 0a1.85 1.85 0 1 0 -3.70 0zM483.05 291.10a1.85 1.85 0 1 0 3.70 0a1.85 1.85 0 1 0 -3.70 0zM487.05 292.90a1.85 1.85 0 1 0 3.70 0a1.85 1.85 0 1 0 -3.70 0zM484.15 295.50a1.85 1.85 0 1 0 3.70 0a1.85 1.85 0 1 0 -3.70 0zM503.65 294.20a1.85 1.85 0 1 0 3.70 0a1.85 1.85 0 1 0 -3.70 0zM509.55 295.70a1.85 1.85 0 1 0 3.70 0a1.85 1.85 0 1 0 -3.70 0zM524.55 292.50a1.85 1.85 0 1 0 3.70 0a1.85 1.85 0 1 0 -3.70 0zM524.75 295.70a1.85 1.85 0 1 0 3.70 0a1.85 1.85 0 1 0 -3.70 0zM526.35 293.00a1.85 1.85 0 1 0 3.70 0a1.85 1.85 0 1 0 -3.70 0zM527.65 292.50a1.85 1.85 0 1 0 3.70 0a1.85 1.85 0 1 0 -3.70 0zM529.05 293.90a1.85 1.85 0 1 0 3.70 0a1.85 1.85 0 1 0 -3.70 0zM531.35 291.20a1.85 1.85 0 1 0 3.70 0a1.85 1.85 0 1 0 -3.70 0zM531.35 293.50a1.85 1.85 0 1 0 3.70 0a1.85 1.85 0 1 0 -3.70 0zM534.95 292.50a1.85 1.85 0 1 0 3.70 0a1.85 1.85 0 1 0 -3.70 0zM537.65 292.50a1.85 1.85 0 1 0 3.70 0a1.85 1.85 0 1 0 -3.70 0zM524.75 301.80a1.85 1.85 0 1 0 3.70 0a1.85 1.85 0 1 0 -3.70 0zM524.05 311.90a1.85 1.85 0 1 0 3.70 0a1.85 1.85 0 1 0 -3.70 0zM393.25 254.50a1.85 1.85 0 1 0 3.70 0a1.85 1.85 0 1 0 -3.70 0zM394.55 255.80a1.85 1.85 0 1 0 3.70 0a1.85 1.85 0 1 0 -3.70 0zM379.25 270.50a1.85 1.85 0 1 0 3.70 0a1.85 1.85 0 1 0 -3.70 0zM374.15 276.40a1.85 1.85 0 1 0 3.70 0a1.85 1.85 0 1 0 -3.70 0zM474.15 257.30a1.85 1.85 0 1 0 3.70 0a1.85 1.85 0 1 0 -3.70 0zM478.05 258.90a1.85 1.85 0 1 0 3.70 0a1.85 1.85 0 1 0 -3.70 0zM485.55 267.60a1.85 1.85 0 1 0 3.70 0a1.85 1.85 0 1 0 -3.70 0zM424.55 303.10a1.85 1.85 0 1 0 3.70 0a1.85 1.85 0 1 0 -3.70 0zM423.95 304.80a1.85 1.85 0 1 0 3.70 0a1.85 1.85 0 1 0 -3.70 0zM425.15 305.80a1.85 1.85 0 1 0 3.70 0a1.85 1.85 0 1 0 -3.70 0zM418.35 307.50a1.85 1.85 0 1 0 3.70 0a1.85 1.85 0 1 0 -3.70 0zM417.05 309.00a1.85 1.85 0 1 0 3.70 0a1.85 1.85 0 1 0 -3.70 0zM415.85 313.40a1.85 1.85 0 1 0 3.70 0a1.85 1.85 0 1 0 -3.70 0zM428.55 319.80a1.85 1.85 0 1 0 3.70 0a1.85 1.85 0 1 0 -3.70 0zM440.75 320.20a1.85 1.85 0 1 0 3.70 0a1.85 1.85 0 1 0 -3.70 0zM439.75 321.40a1.85 1.85 0 1 0 3.70 0a1.85 1.85 0 1 0 -3.70 0zM423.85 328.00a1.85 1.85 0 1 0 3.70 0a1.85 1.85 0 1 0 -3.70 0zM422.55 329.20a1.85 1.85 0 1 0 3.70 0a1.85 1.85 0 1 0 -3.70 0zM428.65 328.30a1.85 1.85 0 1 0 3.70 0a1.85 1.85 0 1 0 -3.70 0zM437.55 329.70a1.85 1.85 0 1 0 3.70 0a1.85 1.85 0 1 0 -3.70 0zM444.75 332.70a1.85 1.85 0 1 0 3.70 0a1.85 1.85 0 1 0 -3.70 0zM422.55 332.70a1.85 1.85 0 1 0 3.70 0a1.85 1.85 0 1 0 -3.70 0zM422.55 335.60a1.85 1.85 0 1 0 3.70 0a1.85 1.85 0 1 0 -3.70 0zM422.55 338.80a1.85 1.85 0 1 0 3.70 0a1.85 1.85 0 1 0 -3.70 0zM419.55 338.80a1.85 1.85 0 1 0 3.70 0a1.85 1.85 0 1 0 -3.70 0zM445.25 309.60a1.85 1.85 0 1 0 3.70 0a1.85 1.85 0 1 0 -3.70 0zM446.65 310.80a1.85 1.85 0 1 0 3.70 0a1.85 1.85 0 1 0 -3.70 0zM427.05 289.90a1.85 1.85 0 1 0 3.70 0a1.85 1.85 0 1 0 -3.70 0zM437.05 290.40a1.85 1.85 0 1 0 3.70 0a1.85 1.85 0 1 0 -3.70 0zM416.15 292.40a1.85 1.85 0 1 0 3.70 0a1.85 1.85 0 1 0 -3.70 0zM417.42 290.90a1.85 1.85 0 1 0 3.70 0a1.85 1.85 0 1 0 -3.70 0zM417.42 293.90a1.85 1.85 0 1 0 3.70 0a1.85 1.85 0 1 0 -3.70 0zM418.69 292.40a1.85 1.85 0 1 0 3.70 0a1.85 1.85 0 1 0 -3.70 0zM419.96 290.90a1.85 1.85 0 1 0 3.70 0a1.85 1.85 0 1 0 -3.70 0zM419.96 293.90a1.85 1.85 0 1 0 3.70 0a1.85 1.85 0 1 0 -3.70 0zM421.23 289.40a1.85 1.85 0 1 0 3.70 0a1.85 1.85 0 1 0 -3.70 0zM421.23 292.40a1.85 1.85 0 1 0 3.70 0a1.85 1.85 0 1 0 -3.70 0zM422.50 290.90a1.85 1.85 0 1 0 3.70 0a1.85 1.85 0 1 0 -3.70 0zM422.50 293.90a1.85 1.85 0 1 0 3.70 0a1.85 1.85 0 1 0 -3.70 0zM423.77 289.40a1.85 1.85 0 1 0 3.70 0a1.85 1.85 0 1 0 -3.70 0zM423.77 292.40a1.85 1.85 0 1 0 3.70 0a1.85 1.85 0 1 0 -3.70 0zM425.04 290.90a1.85 1.85 0 1 0 3.70 0a1.85 1.85 0 1 0 -3.70 0zM425.04 293.90a1.85 1.85 0 1 0 3.70 0a1.85 1.85 0 1 0 -3.70 0zM426.31 292.40a1.85 1.85 0 1 0 3.70 0a1.85 1.85 0 1 0 -3.70 0zM427.58 290.90a1.85 1.85 0 1 0 3.70 0a1.85 1.85 0 1 0 -3.70 0zM427.58 293.90a1.85 1.85 0 1 0 3.70 0a1.85 1.85 0 1 0 -3.70 0zM428.85 289.40a1.85 1.85 0 1 0 3.70 0a1.85 1.85 0 1 0 -3.70 0zM428.85 292.40a1.85 1.85 0 1 0 3.70 0a1.85 1.85 0 1 0 -3.70 0zM430.12 290.90a1.85 1.85 0 1 0 3.70 0a1.85 1.85 0 1 0 -3.70 0zM430.12 293.90a1.85 1.85 0 1 0 3.70 0a1.85 1.85 0 1 0 -3.70 0zM431.39 292.40a1.85 1.85 0 1 0 3.70 0a1.85 1.85 0 1 0 -3.70 0zM432.66 290.90a1.85 1.85 0 1 0 3.70 0a1.85 1.85 0 1 0 -3.70 0zM432.66 293.90a1.85 1.85 0 1 0 3.70 0a1.85 1.85 0 1 0 -3.70 0zM433.93 292.40a1.85 1.85 0 1 0 3.70 0a1.85 1.85 0 1 0 -3.70 0zM435.20 290.90a1.85 1.85 0 1 0 3.70 0a1.85 1.85 0 1 0 -3.70 0zM435.20 293.90a1.85 1.85 0 1 0 3.70 0a1.85 1.85 0 1 0 -3.70 0zM436.47 292.40a1.85 1.85 0 1 0 3.70 0a1.85 1.85 0 1 0 -3.70 0zM437.74 290.90a1.85 1.85 0 1 0 3.70 0a1.85 1.85 0 1 0 -3.70 0zM437.74 293.90a1.85 1.85 0 1 0 3.70 0a1.85 1.85 0 1 0 -3.70 0zM439.01 292.40a1.85 1.85 0 1 0 3.70 0a1.85 1.85 0 1 0 -3.70 0zM440.28 290.90a1.85 1.85 0 1 0 3.70 0a1.85 1.85 0 1 0 -3.70 0zM440.28 293.90a1.85 1.85 0 1 0 3.70 0a1.85 1.85 0 1 0 -3.70 0zM441.55 292.40a1.85 1.85 0 1 0 3.70 0a1.85 1.85 0 1 0 -3.70 0zM441.55 295.40a1.85 1.85 0 1 0 3.70 0a1.85 1.85 0 1 0 -3.70 0zM442.82 290.90a1.85 1.85 0 1 0 3.70 0a1.85 1.85 0 1 0 -3.70 0zM442.82 293.90a1.85 1.85 0 1 0 3.70 0a1.85 1.85 0 1 0 -3.70 0zM444.09 292.40a1.85 1.85 0 1 0 3.70 0a1.85 1.85 0 1 0 -3.70 0zM445.36 290.90a1.85 1.85 0 1 0 3.70 0a1.85 1.85 0 1 0 -3.70 0zM445.36 293.90a1.85 1.85 0 1 0 3.70 0a1.85 1.85 0 1 0 -3.70 0zM446.63 292.40a1.85 1.85 0 1 0 3.70 0a1.85 1.85 0 1 0 -3.70 0zM447.90 290.90a1.85 1.85 0 1 0 3.70 0a1.85 1.85 0 1 0 -3.70 0zM447.90 293.90a1.85 1.85 0 1 0 3.70 0a1.85 1.85 0 1 0 -3.70 0zM449.17 292.40a1.85 1.85 0 1 0 3.70 0a1.85 1.85 0 1 0 -3.70 0zM450.44 290.90a1.85 1.85 0 1 0 3.70 0a1.85 1.85 0 1 0 -3.70 0zM450.44 293.90a1.85 1.85 0 1 0 3.70 0a1.85 1.85 0 1 0 -3.70 0zM451.71 289.40a1.85 1.85 0 1 0 3.70 0a1.85 1.85 0 1 0 -3.70 0zM451.71 292.40a1.85 1.85 0 1 0 3.70 0a1.85 1.85 0 1 0 -3.70 0zM452.98 293.90a1.85 1.85 0 1 0 3.70 0a1.85 1.85 0 1 0 -3.70 0zM454.25 289.40a1.85 1.85 0 1 0 3.70 0a1.85 1.85 0 1 0 -3.70 0zM454.25 292.40a1.85 1.85 0 1 0 3.70 0a1.85 1.85 0 1 0 -3.70 0zM455.52 290.90a1.85 1.85 0 1 0 3.70 0a1.85 1.85 0 1 0 -3.70 0zM455.52 293.90a1.85 1.85 0 1 0 3.70 0a1.85 1.85 0 1 0 -3.70 0zM456.79 289.40a1.85 1.85 0 1 0 3.70 0a1.85 1.85 0 1 0 -3.70 0zM456.79 292.40a1.85 1.85 0 1 0 3.70 0a1.85 1.85 0 1 0 -3.70 0zM456.79 295.40a1.85 1.85 0 1 0 3.70 0a1.85 1.85 0 1 0 -3.70 0zM458.06 290.90a1.85 1.85 0 1 0 3.70 0a1.85 1.85 0 1 0 -3.70 0zM458.06 293.90a1.85 1.85 0 1 0 3.70 0a1.85 1.85 0 1 0 -3.70 0zM459.33 289.40a1.85 1.85 0 1 0 3.70 0a1.85 1.85 0 1 0 -3.70 0zM459.33 292.40a1.85 1.85 0 1 0 3.70 0a1.85 1.85 0 1 0 -3.70 0zM460.60 290.90a1.85 1.85 0 1 0 3.70 0a1.85 1.85 0 1 0 -3.70 0zM460.60 293.90a1.85 1.85 0 1 0 3.70 0a1.85 1.85 0 1 0 -3.70 0zM444.75 287.60a1.85 1.85 0 1 0 3.70 0a1.85 1.85 0 1 0 -3.70 0zM455.15 289.30a1.85 1.85 0 1 0 3.70 0a1.85 1.85 0 1 0 -3.70 0zM462.75 290.90a1.85 1.85 0 1 0 3.70 0a1.85 1.85 0 1 0 -3.70 0zM433.85 298.00a1.85 1.85 0 1 0 3.70 0a1.85 1.85 0 1 0 -3.70 0zM436.05 298.00a1.85 1.85 0 1 0 3.70 0a1.85 1.85 0 1 0 -3.70 0zM424.05 303.40a1.85 1.85 0 1 0 3.70 0a1.85 1.85 0 1 0 -3.70 0z" fill="#1616f2" fill-opacity="0.3"/>
<path d="M364.30 291.30a1.2 1.2 0 1 0 2.40 0a1.2 1.2 0 1 0 -2.40 0zM365.80 292.90a1.2 1.2 0 1 0 2.40 0a1.2 1.2 0 1 0 -2.40 0zM367.00 290.80a1.2 1.2 0 1 0 2.40 0a1.2 1.2 0 1 0 -2.40 0zM370.80 289.20a1.2 1.2 0 1 0 2.40 0a1.2 1.2 0 1 0 -2.40 0zM372.40 290.80a1.2 1.2 0 1 0 2.40 0a1.2 1.2 0 1 0 -2.40 0zM373.30 292.90a1.2 1.2 0 1 0 2.40 0a1.2 1.2 0 1 0 -2.40 0zM376.30 292.90a1.2 1.2 0 1 0 2.40 0a1.2 1.2 0 1 0 -2.40 0zM381.10 289.70a1.2 1.2 0 1 0 2.40 0a1.2 1.2 0 1 0 -2.40 0zM382.40 291.30a1.2 1.2 0 1 0 2.40 0a1.2 1.2 0 1 0 -2.40 0zM384.10 290.90a1.2 1.2 0 1 0 2.40 0a1.2 1.2 0 1 0 -2.40 0zM385.50 291.60a1.2 1.2 0 1 0 2.40 0a1.2 1.2 0 1 0 -2.40 0zM388.40 292.40a1.2 1.2 0 1 0 2.40 0a1.2 1.2 0 1 0 -2.40 0zM389.90 291.30a1.2 1.2 0 1 0 2.40 0a1.2 1.2 0 1 0 -2.40 0zM393.50 292.70a1.2 1.2 0 1 0 2.40 0a1.2 1.2 0 1 0 -2.40 0zM395.00 291.60a1.2 1.2 0 1 0 2.40 0a1.2 1.2 0 1 0 -2.40 0zM396.40 290.90a1.2 1.2 0 1 0 2.40 0a1.2 1.2 0 1 0 -2.40 0zM397.90 292.00a1.2 1.2 0 1 0 2.40 0a1.2 1.2 0 1 0 -2.40 0zM399.30 293.50a1.2 1.2 0 1 0 2.40 0a1.2 1.2 0 1 0 -2.40 0zM400.80 291.30a1.2 1.2 0 1 0 2.40 0a1.2 1.2 0 1 0 -2.40 0zM402.30 290.90a1.2 1.2 0 1 0 2.40 0a1.2 1.2 0 1 0 -2.40 0zM404.80 288.00a1.2 1.2 0 1 0 2.40 0a1.2 1.2 0 1 0 -2.40 0zM405.20 289.50a1.2 1.2 0 1 0 2.40 0a1.2 1.2 0 1 0 -2.40 0zM406.60 291.30a1.2 1.2 0 1 0 2.40 0a1.2 1.2 0 1 0 -2.40 0zM408.10 292.40a1.2 1.2 0 1 0 2.40 0a1.2 1.2 0 1 0 -2.40 0zM410.30 292.70a1.2 1.2 0 1 0 2.40 0a1.2 1.2 0 1 0 -2.40 0zM412.40 292.70a1.2 1.2 0 1 0 2.40 0a1.2 1.2 0 1 0 -2.40 0zM413.90 291.30a1.2 1.2 0 1 0 2.40 0a1.2 1.2 0 1 0 -2.40 0zM415.30 290.50a1.2 1.2 0 1 0 2.40 0a1.2 1.2 0 1 0 -2.40 0zM413.20 294.00a1.2 1.2 0 1 0 2.40 0a1.2 1.2 0 1 0 -2.40 0zM417.50 291.70a1.2 1.2 0 1 0 2.40 0a1.2 1.2 0 1 0 -2.40 0zM416.20 293.10a1.2 1.2 0 1 0 2.40 0a1.2 1.2 0 1 0 -2.40 0zM418.90 290.80a1.2 1.2 0 1 0 2.40 0a1.2 1.2 0 1 0 -2.40 0zM418.90 293.10a1.2 1.2 0 1 0 2.40 0a1.2 1.2 0 1 0 -2.40 0zM409.10 292.60a1.2 1.2 0 1 0 2.40 0a1.2 1.2 0 1 0 -2.40 0zM403.80 292.00a1.2 1.2 0 1 0 2.40 0a1.2 1.2 0 1 0 -2.40 0zM410.40 279.80a1.2 1.2 0 1 0 2.40 0a1.2 1.2 0 1 0 -2.40 0zM433.10 299.30a1.2 1.2 0 1 0 2.40 0a1.2 1.2 0 1 0 -2.40 0zM434.30 298.70a1.2 1.2 0 1 0 2.40 0a1.2 1.2 0 1 0 -2.40 0zM436.80 298.70a1.2 1.2 0 1 0 2.40 0a1.2 1.2 0 1 0 -2.40 0zM444.30 298.60a1.2 1.2 0 1 0 2.40 0a1.2 1.2 0 1 0 -2.40 0zM453.40 300.10a1.2 1.2 0 1 0 2.40 0a1.2 1.2 0 1 0 -2.40 0zM445.60 287.80a1.2 1.2 0 1 0 2.40 0a1.2 1.2 0 1 0 -2.40 0zM461.20 293.60a1.2 1.2 0 1 0 2.40 0a1.2 1.2 0 1 0 -2.40 0zM463.70 291.10a1.2 1.2 0 1 0 2.40 0a1.2 1.2 0 1 0 -2.40 0zM467.30 289.60a1.2 1.2 0 1 0 2.40 0a1.2 1.2 0 1 0 -2.40 0zM468.80 290.40a1.2 1.2 0 1 0 2.40 0a1.2 1.2 0 1 0 -2.40 0zM469.90 289.60a1.2 1.2 0 1 0 2.40 0a1.2 1.2 0 1 0 -2.40 0zM472.40 289.60a1.2 1.2 0 1 0 2.40 0a1.2 1.2 0 1 0 -2.40 0zM473.50 288.20a1.2 1.2 0 1 0 2.40 0a1.2 1.2 0 1 0 -2.40 0zM477.50 289.60a1.2 1.2 0 1 0 2.40 0a1.2 1.2 0 1 0 -2.40 0zM475.00 295.50a1.2 1.2 0 1 0 2.40 0a1.2 1.2 0 1 0 -2.40 0zM483.70 291.10a1.2 1.2 0 1 0 2.40 0a1.2 1.2 0 1 0 -2.40 0zM487.70 292.90a1.2 1.2 0 1 0 2.40 0a1.2 1.2 0 1 0 -2.40 0zM484.80 295.50a1.2 1.2 0 1 0 2.40 0a1.2 1.2 0 1 0 -2.40 0zM504.30 294.20a1.2 1.2 0 1 0 2.40 0a1.2 1.2 0 1 0 -2.40 0zM510.20 295.70a1.2 1.2 0 1 0 2.40 0a1.2 1.2 0 1 0 -2.40 0zM525.20 292.50a1.2 1.2 0 1 0 2.40 0a1.2 1.2 0 1 0 -2.40 0zM525.40 295.70a1.2 1.2 0 1 0 2.40 0a1.2 1.2 0 1 0 -2.40 0zM527.00 293.00a1.2 1.2 0 1 0 2.40 0a1.2 1.2 0 1 0 -2.40 0zM528.30 292.50a1.2 1.2 0 1 0 2.40 0a1.2 1.2 0 1 0 -2.40 0zM529.70 293.90a1.2 1.2 0 1 0 2.40 0a1.2 1.2 0 1 0 -2.40 0zM532.00 291.20a1.2 1.2 0 1 0 2.40 0a1.2 1.2 0 1 0 -2.40 0zM532.00 293.50a1.2 1.2 0 1 0 2.40 0a1.2 1.2 0 1 0 -2.40 0zM535.60 292.50a1.2 1.2 0 1 0 2.40 0a1.2 1.2 0 1 0 -2.40 0zM538.30 292.50a1.2 1.2 0 1 0 2.40 0a1.2 1.2 0 1 0 -2.40 0zM525.40 301.80a1.2 1.2 0 1 0 2.40 0a1.2 1.2 0 1 0 -2.40 0zM524.70 311.90a1.2 1.2 0 1 0 2.40 0a1.2 1.2 0 1 0 -2.40 0zM393.90 254.50a1.2 1.2 0 1 0 2.40 0a1.2 1.2 0 1 0 -2.40 0zM395.20 255.80a1.2 1.2 0 1 0 2.40 0a1.2 1.2 0 1 0 -2.40 0zM379.90 270.50a1.2 1.2 0 1 0 2.40 0a1.2 1.2 0 1 0 -2.40 0zM374.80 276.40a1.2 1.2 0 1 0 2.40 0a1.2 1.2 0 1 0 -2.40 0zM474.80 257.30a1.2 1.2 0 1 0 2.40 0a1.2 1.2 0 1 0 -2.40 0zM478.70 258.90a1.2 1.2 0 1 0 2.40 0a1.2 1.2 0 1 0 -2.40 0zM486.20 267.60a1.2 1.2 0 1 0 2.40 0a1.2 1.2 0 1 0 -2.40 0zM425.20 303.10a1.2 1.2 0 1 0 2.40 0a1.2 1.2 0 1 0 -2.40 0zM424.60 304.80a1.2 1.2 0 1 0 2.40 0a1.2 1.2 0 1 0 -2.40 0zM425.80 305.80a1.2 1.2 0 1 0 2.40 0a1.2 1.2 0 1 0 -2.40 0zM419.00 307.50a1.2 1.2 0 1 0 2.40 0a1.2 1.2 0 1 0 -2.40 0zM417.70 309.00a1.2 1.2 0 1 0 2.40 0a1.2 1.2 0 1 0 -2.40 0zM416.50 313.40a1.2 1.2 0 1 0 2.40 0a1.2 1.2 0 1 0 -2.40 0zM429.20 319.80a1.2 1.2 0 1 0 2.40 0a1.2 1.2 0 1 0 -2.40 0zM441.40 320.20a1.2 1.2 0 1 0 2.40 0a1.2 1.2 0 1 0 -2.40 0zM440.40 321.40a1.2 1.2 0 1 0 2.40 0a1.2 1.2 0 1 0 -2.40 0zM424.50 328.00a1.2 1.2 0 1 0 2.40 0a1.2 1.2 0 1 0 -2.40 0zM423.20 329.20a1.2 1.2 0 1 0 2.40 0a1.2 1.2 0 1 0 -2.40 0zM429.30 328.30a1.2 1.2 0 1 0 2.40 0a1.2 1.2 0 1 0 -2.40 0zM438.20 329.70a1.2 1.2 0 1 0 2.40 0a1.2 1.2 0 1 0 -2.40 0zM445.40 332.70a1.2 1.2 0 1 0 2.40 0a1.2 1.2 0 1 0 -2.40 0zM423.20 332.70a1.2 1.2 0 1 0 2.40 0a1.2 1.2 0 1 0 -2.40 0zM423.20 335.60a1.2 1.2 0 1 0 2.40 0a1.2 1.2 0 1 0 -2.40 0zM423.20 338.80a1.2 1.2 0 1 0 2.40 0a1.2 1.2 0 1 0 -2.40 0zM420.20 338.80a1.2 1.2 0 1 0 2.40 0a1.2 1.2 0 1 0 -2.40 0zM445.90 309.60a1.2 1.2 0 1 0 2.40 0a1.2 1.2 0 1 0 -2.40 0zM447.30 310.80a1.2 1.2 0 1 0 2.40 0a1.2 1.2 0 1 0 -2.40 0zM427.70 289.90a1.2 1.2 0 1 0 2.40 0a1.2 1.2 0 1 0 -2.40 0zM437.70 290.40a1.2 1.2 0 1 0 2.40 0a1.2 1.2 0 1 0 -2.40 0zM416.80 292.40a1.2 1.2 0 1 0 2.40 0a1.2 1.2 0 1 0 -2.40 0zM418.07 290.90a1.2 1.2 0 1 0 2.40 0a1.2 1.2 0 1 0 -2.40 0zM418.07 293.90a1.2 1.2 0 1 0 2.40 0a1.2 1.2 0 1 0 -2.40 0zM419.34 292.40a1.2 1.2 0 1 0 2.40 0a1.2 1.2 0 1 0 -2.40 0zM420.61 290.90a1.2 1.2 0 1 0 2.40 0a1.2 1.2 0 1 0 -2.40 0zM420.61 293.90a1.2 1.2 0 1 0 2.40 0a1.2 1.2 0 1 0 -2.40 0zM421.88 289.40a1.2 1.2 0 1 0 2.40 0a1.2 1.2 0 1 0 -2.40 0zM421.88 292.40a1.2 1.2 0 1 0 2.40 0a1.2 1.2 0 1 0 -2.40 0zM423.15 290.90a1.2 1.2 0 1 0 2.40 0a1.2 1.2 0 1 0 -2.40 0zM423.15 293.90a1.2 1.2 0 1 0 2.40 0a1.2 1.2 0 1 0 -2.40 0zM424.42 289.40a1.2 1.2 0 1 0 2.40 0a1.2 1.2 0 1 0 -2.40 0zM424.42 292.40a1.2 1.2 0 1 0 2.40 0a1.2 1.2 0 1 0 -2.40 0zM425.69 290.90a1.2 1.2 0 1 0 2.40 0a1.2 1.2 0 1 0 -2.40 0zM425.69 293.90a1.2 1.2 0 1 0 2.40 0a1.2 1.2 0 1 0 -2.40 0zM426.96 292.40a1.2 1.2 0 1 0 2.40 0a1.2 1.2 0 1 0 -2.40 0zM428.23 290.90a1.2 1.2 0 1 0 2.40 0a1.2 1.2 0 1 0 -2.40 0zM428.23 293.90a1.2 1.2 0 1 0 2.40 0a1.2 1.2 0 1 0 -2.40 0zM429.50 289.40a1.2 1.2 0 1 0 2.40 0a1.2 1.2 0 1 0 -2.40 0zM429.50 292.40a1.2 1.2 0 1 0 2.40 0a1.2 1.2 0 1 0 -2.40 0zM430.77 290.90a1.2 1.2 0 1 0 2.40 0a1.2 1.2 0 1 0 -2.40 0zM430.77 293.90a1.2 1.2 0 1 0 2.40 0a1.2 1.2 0 1 0 -2.40 0zM432.04 292.40a1.2 1.2 0 1 0 2.40 0a1.2 1.2 0 1 0 -2.40 0zM433.31 290.90a1.2 1.2 0 1 0 2.40 0a1.2 1.2 0 1 0 -2.40 0zM433.31 293.90a1.2 1.2 0 1 0 2.40 0a1.2 1.2 0 1 0 -2.40 0zM434.58 292.40a1.2 1.2 0 1 0 2.40 0a1.2 1.2 0 1 0 -2.40 0zM435.85 290.90a1.2 1.2 0 1 0 2.40 0a1.2 1.2 0 1 0 -2.40 0zM435.85 293.90a1.2 1.2 0 1 0 2.40 0a1.2 1.2 0 1 0 -2.40 0zM437.12 292.40a1.2 1.2 0 1 0 2.40 0a1.2 1.2 0 1 0 -2.40 0zM438.39 290.90a1.2 1.2 0 1 0 2.40 0a1.2 1.2 0 1 0 -2.40 0zM438.39 293.90a1.2 1.2 0 1 0 2.40 0a1.2 1.2 0 1 0 -2.40 0zM439.66 292.40a1.2 1.2 0 1 0 2.40 0a1.2 1.2 0 1 0 -2.40 0zM440.93 290.90a1.2 1.2 0 1 0 2.40 0a1.2 1.2 0 1 0 -2.40 0zM440.93 293.90a1.2 1.2 0 1 0 2.40 0a1.2 1.2 0 1 0 -2.40 0zM442.20 292.40a1.2 1.2 0 1 0 2.40 0a1.2 1.2 0 1 0 -2.40 0zM442.20 295.40a1.2 1.2 0 1 0 2.40 0a1.2 1.2 0 1 0 -2.40 0zM443.47 290.90a1.2 1.2 0 1 0 2.40 0a1.2 1.2 0 1 0 -2.40 0zM443.47 293.90a1.2 1.2 0 1 0 2.40 0a1.2 1.2 0 1 0 -2.40 0zM444.74 292.40a1.2 1.2 0 1 0 2.40 0a1.2 1.2 0 1 0 -2.40 0zM446.01 290.90a1.2 1.2 0 1 0 2.40 0a1.2 1.2 0 1 0 -2.40 0zM446.01 293.90a1.2 1.2 0 1 0 2.40 0a1.2 1.2 0 1 0 -2.40 0zM447.28 292.40a1.2 1.2 0 1 0 2.40 0a1.2 1.2 0 1 0 -2.40 0zM448.55 290.90a1.2 1.2 0 1 0 2.40 0a1.2 1.2 0 1 0 -2.40 0zM448.55 293.90a1.2 1.2 0 1 0 2.40 0a1.2 1.2 0 1 0 -2.40 0zM449.82 292.40a1.2 1.2 0 1 0 2.40 0a1.2 1.2 0 1 0 -2.40 0zM451.09 290.90a1.2 1.2 0 1 0 2.40 0a1.2 1.2 0 1 0 -2.40 0zM451.09 293.90a1.2 1.2 0 1 0 2.40 0a1.2 1.2 0 1 0 -2.40 0zM452.36 289.40a1.2 1.2 0 1 0 2.40 0a1.2 1.2 0 1 0 -2.40 0zM452.36 292.40a1.2 1.2 0 1 0 2.40 0a1.2 1.2 0 1 0 -2.40 0zM453.63 293.90a1.2 1.2 0 1 0 2.40 0a1.2 1.2 0 1 0 -2.40 0zM454.90 289.40a1.2 1.2 0 1 0 2.40 0a1.2 1.2 0 1 0 -2.40 0zM454.90 292.40a1.2 1.2 0 1 0 2.40 0a1.2 1.2 0 1 0 -2.40 0zM456.17 290.90a1.2 1.2 0 1 0 2.40 0a1.2 1.2 0 1 0 -2.40 0zM456.17 293.90a1.2 1.2 0 1 0 2.40 0a1.2 1.2 0 1 0 -2.40 0zM457.44 289.40a1.2 1.2 0 1 0 2.40 0a1.2 1.2 0 1 0 -2.40 0zM457.44 292.40a1.2 1.2 0 1 0 2.40 0a1.2 1.2 0 1 0 -2.40 0zM457.44 295.40a1.2 1.2 0 1 0 2.40 0a1.2 1.2 0 1 0 -2.40 0zM458.71 290.90a1.2 1.2 0 1 0 2.40 0a1.2 1.2 0 1 0 -2.40 0zM458.71 293.90a1.2 1.2 0 1 0 2.40 0a1.2 1.2 0 1 0 -2.40 0zM459.98 289.40a1.2 1.2 0 1 0 2.40 0a1.2 1.2 0 1 0 -2.40 0zM459.98 292.40a1.2 1.2 0 1 0 2.40 0a1.2 1.2 0 1 0 -2.40 0zM461.25 290.90a1.2 1.2 0 1 0 2.40 0a1.2 1.2 0 1 0 -2.40 0zM461.25 293.90a1.2 1.2 0 1 0 2.40 0a1.2 1.2 0 1 0 -2.40 0zM445.40 287.60a1.2 1.2 0 1 0 2.40 0a1.2 1.2 0 1 0 -2.40 0zM455.80 289.30a1.2 1.2 0 1 0 2.40 0a1.2 1.2 0 1 0 -2.40 0zM463.40 290.90a1.2 1.2 0 1 0 2.40 0a1.2 1.2 0 1 0 -2.40 0zM434.50 298.00a1.2 1.2 0 1 0 2.40 0a1.2 1.2 0 1 0 -2.40 0zM436.70 298.00a1.2 1.2 0 1 0 2.40 0a1.2 1.2 0 1 0 -2.40 0zM424.70 303.40a1.2 1.2 0 1 0 2.40 0a1.2 1.2 0 1 0 -2.40 0z" fill="#1616f2"/>
<line x1="365.80" y1="271.80" x2="539.40" y2="271.80" stroke="#ff0000" stroke-width="1.3" stroke-dasharray="4 1.9" stroke-opacity="0.45"/>
<line x1="365.80" y1="316.30" x2="539.40" y2="316.30" stroke="#ff0000" stroke-width="1.3" stroke-dasharray="4 1.9" stroke-opacity="0.45"/>
<line x1="365.00" y1="294.00" x2="540.00" y2="294.00" stroke="#000000" stroke-width="1.5" stroke-opacity="0.28"/>
<text x="500.50" y="256.08" font-size="4.4" text-anchor="start" fill="#ff1a1a" stroke="#ff1a1a" stroke-width="0.12" font-weight="bold">+1.96SD:</text>
<text x="500.50" y="265.88" font-size="4.4" text-anchor="start" fill="#ff1a1a" stroke="#ff1a1a" stroke-width="0.12" font-weight="bold">5.6644</text>
<text x="468.20" y="302.48" font-size="4.4" text-anchor="start" fill="#000" stroke="#000" stroke-width="0.2" font-weight="bold">MEAN: -0.3295</text>
<text x="502.70" y="320.88" font-size="4.4" text-anchor="start" fill="#ff1a1a" stroke="#ff1a1a" stroke-width="0.12" font-weight="bold">-1.96SD:</text>
<text x="502.70" y="330.98" font-size="4.4" text-anchor="start" fill="#ff1a1a" stroke="#ff1a1a" stroke-width="0.12" font-weight="bold">-6.3214</text>
<text transform="translate(308.11,329.80) rotate(-90)" font-size="5.9" text-anchor="middle" stroke="#000" stroke-width="0.15" font-weight="normal">HR</text>
<text transform="translate(312.95,316.40) rotate(-90)" font-size="4.6" text-anchor="middle" stroke="#000" stroke-width="0.15" font-weight="normal">rad</text>
<text transform="translate(308.71,302.80) rotate(-90)" font-size="5.9" text-anchor="middle" stroke="#000" stroke-width="0.15" font-weight="normal">-HR</text>
<text transform="translate(313.45,288.00) rotate(-90)" font-size="4.6" text-anchor="middle" stroke="#000" stroke-width="0.15" font-weight="normal">ref</text>
<text transform="translate(309.61,270.80) rotate(-90)" font-size="5.9" text-anchor="middle" stroke="#000" stroke-width="0.15" font-weight="normal">(BPM)</text>
<text x="388.00" y="389.11" font-size="5.9" text-anchor="start" fill="#000" stroke="#000" stroke-width="0.15" font-weight="normal">(HR</text>
<text x="405.00" y="392.25" font-size="4.6" text-anchor="start" fill="#000" stroke="#000" stroke-width="0.15" font-weight="normal">rad</text>
<text x="417.00" y="387.11" font-size="5.9" text-anchor="start" fill="#000" stroke="#000" stroke-width="0.15" font-weight="normal">+HR</text>
<text x="437.00" y="391.85" font-size="4.6" text-anchor="start" fill="#000" stroke="#000" stroke-width="0.15" font-weight="normal">ref</text>
<text x="446.60" y="388.71" font-size="5.9" text-anchor="start" fill="#000" stroke="#000" stroke-width="0.15" font-weight="normal">)/2 (BPM)</text>
</g>
<text x="126.90" y="207.90" font-family="'Liberation Serif', 'Times New Roman', serif" font-size="14" text-anchor="middle">(<tspan font-weight="bold">a</tspan>)</text>
<text x="423.20" y="207.90" font-family="'Liberation Serif', 'Times New Roman', serif" font-size="14" text-anchor="middle">(<tspan font-weight="bold">b</tspan>)</text>
<text x="126.50" y="414.80" font-family="'Liberation Serif', 'Times New Roman', serif" font-size="14" text-anchor="middle">(<tspan font-weight="bold">c</tspan>)</text>
<text x="423.00" y="414.80" font-family="'Liberation Serif', 'Times New Roman', serif" font-size="14" text-anchor="middle">(<tspan font-weight="bold">d</tspan>)</text>
</g>
</svg>
</body></html>
